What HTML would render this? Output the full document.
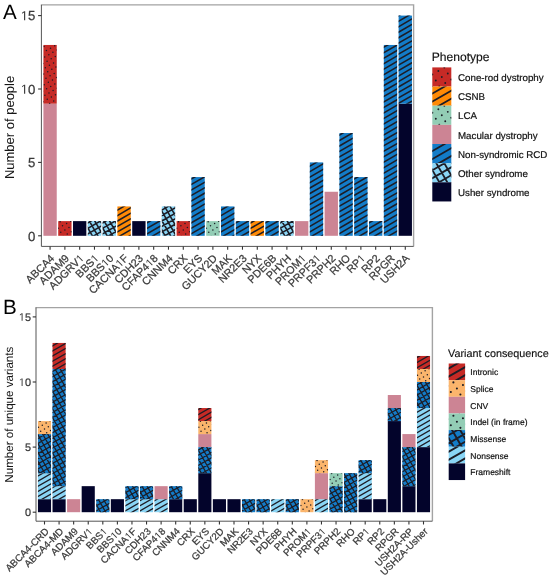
<!DOCTYPE html>
<html><head><meta charset="utf-8"><style>
html,body{margin:0;padding:0;background:#fff;}
svg{display:block;font-family:"Liberation Sans", sans-serif;will-change:transform;text-rendering:geometricPrecision;}
</style></head><body>
<svg width="550" height="576" viewBox="0 0 550 576">
<rect x="43.42" y="103.68" width="13.32" height="132.12" fill="#CC8494"/>
<rect x="43.42" y="44.96" width="13.32" height="58.72" fill="#C62A26"/>
<rect x="58.22" y="221.12" width="13.32" height="14.68" fill="#C62A26"/>
<rect x="73.02" y="221.12" width="13.32" height="14.68" fill="#03042B"/>
<rect x="87.82" y="221.12" width="13.32" height="14.68" fill="#8AD5F5"/>
<rect x="102.62" y="221.12" width="13.32" height="14.68" fill="#8AD5F5"/>
<rect x="117.42" y="206.44" width="13.32" height="29.36" fill="#FF8A05"/>
<rect x="132.22" y="221.12" width="13.32" height="14.68" fill="#03042B"/>
<rect x="147.02" y="221.12" width="13.32" height="14.68" fill="#137CC8"/>
<rect x="161.82" y="206.44" width="13.32" height="29.36" fill="#8AD5F5"/>
<rect x="176.62" y="221.12" width="13.32" height="14.68" fill="#C62A26"/>
<rect x="191.42" y="177.08" width="13.32" height="58.72" fill="#137CC8"/>
<rect x="206.22" y="221.12" width="13.32" height="14.68" fill="#93CDB5"/>
<rect x="221.02" y="206.44" width="13.32" height="29.36" fill="#137CC8"/>
<rect x="235.82" y="221.12" width="13.32" height="14.68" fill="#137CC8"/>
<rect x="250.62" y="221.12" width="13.32" height="14.68" fill="#FF8A05"/>
<rect x="265.42" y="221.12" width="13.32" height="14.68" fill="#137CC8"/>
<rect x="280.22" y="221.12" width="13.32" height="14.68" fill="#8AD5F5"/>
<rect x="295.02" y="221.12" width="13.32" height="14.68" fill="#CC8494"/>
<rect x="309.82" y="162.40" width="13.32" height="73.40" fill="#137CC8"/>
<rect x="324.62" y="191.76" width="13.32" height="44.04" fill="#CC8494"/>
<rect x="339.42" y="133.04" width="13.32" height="102.76" fill="#137CC8"/>
<rect x="354.22" y="177.08" width="13.32" height="58.72" fill="#137CC8"/>
<rect x="369.02" y="221.12" width="13.32" height="14.68" fill="#137CC8"/>
<rect x="383.82" y="44.96" width="13.32" height="190.84" fill="#137CC8"/>
<rect x="398.62" y="103.68" width="13.32" height="132.12" fill="#03042B"/>
<rect x="398.62" y="15.60" width="13.32" height="88.08" fill="#137CC8"/>
<clipPath id="c1"><rect x="43.42" y="44.96" width="13.32" height="58.72"/></clipPath>
<g clip-path="url(#c1)"><path d="M42.39 101.74a0.75 0.75 0 1 0 1.5 0a0.75 0.75 0 1 0 -1.5 0M41.76 91.16a0.75 0.75 0 1 0 1.5 0a0.75 0.75 0 1 0 -1.5 0M44.13 95.26a0.75 0.75 0 1 0 1.5 0a0.75 0.75 0 1 0 -1.5 0M46.50 99.37a0.75 0.75 0 1 0 1.5 0a0.75 0.75 0 1 0 -1.5 0M48.87 103.47a0.75 0.75 0 1 0 1.5 0a0.75 0.75 0 1 0 -1.5 0M41.12 80.58a0.75 0.75 0 1 0 1.5 0a0.75 0.75 0 1 0 -1.5 0M43.49 84.68a0.75 0.75 0 1 0 1.5 0a0.75 0.75 0 1 0 -1.5 0M45.86 88.79a0.75 0.75 0 1 0 1.5 0a0.75 0.75 0 1 0 -1.5 0M48.23 92.89a0.75 0.75 0 1 0 1.5 0a0.75 0.75 0 1 0 -1.5 0M50.60 97.00a0.75 0.75 0 1 0 1.5 0a0.75 0.75 0 1 0 -1.5 0M52.97 101.10a0.75 0.75 0 1 0 1.5 0a0.75 0.75 0 1 0 -1.5 0M55.34 105.21a0.75 0.75 0 1 0 1.5 0a0.75 0.75 0 1 0 -1.5 0M42.86 74.10a0.75 0.75 0 1 0 1.5 0a0.75 0.75 0 1 0 -1.5 0M45.23 78.21a0.75 0.75 0 1 0 1.5 0a0.75 0.75 0 1 0 -1.5 0M47.60 82.31a0.75 0.75 0 1 0 1.5 0a0.75 0.75 0 1 0 -1.5 0M49.97 86.42a0.75 0.75 0 1 0 1.5 0a0.75 0.75 0 1 0 -1.5 0M52.34 90.52a0.75 0.75 0 1 0 1.5 0a0.75 0.75 0 1 0 -1.5 0M54.71 94.63a0.75 0.75 0 1 0 1.5 0a0.75 0.75 0 1 0 -1.5 0M57.08 98.73a0.75 0.75 0 1 0 1.5 0a0.75 0.75 0 1 0 -1.5 0M42.22 63.52a0.75 0.75 0 1 0 1.5 0a0.75 0.75 0 1 0 -1.5 0M44.59 67.63a0.75 0.75 0 1 0 1.5 0a0.75 0.75 0 1 0 -1.5 0M46.96 71.73a0.75 0.75 0 1 0 1.5 0a0.75 0.75 0 1 0 -1.5 0M49.33 75.84a0.75 0.75 0 1 0 1.5 0a0.75 0.75 0 1 0 -1.5 0M51.70 79.94a0.75 0.75 0 1 0 1.5 0a0.75 0.75 0 1 0 -1.5 0M54.07 84.05a0.75 0.75 0 1 0 1.5 0a0.75 0.75 0 1 0 -1.5 0M56.44 88.15a0.75 0.75 0 1 0 1.5 0a0.75 0.75 0 1 0 -1.5 0M41.58 52.94a0.75 0.75 0 1 0 1.5 0a0.75 0.75 0 1 0 -1.5 0M43.95 57.05a0.75 0.75 0 1 0 1.5 0a0.75 0.75 0 1 0 -1.5 0M46.32 61.15a0.75 0.75 0 1 0 1.5 0a0.75 0.75 0 1 0 -1.5 0M48.69 65.26a0.75 0.75 0 1 0 1.5 0a0.75 0.75 0 1 0 -1.5 0M51.06 69.36a0.75 0.75 0 1 0 1.5 0a0.75 0.75 0 1 0 -1.5 0M53.43 73.47a0.75 0.75 0 1 0 1.5 0a0.75 0.75 0 1 0 -1.5 0M55.80 77.57a0.75 0.75 0 1 0 1.5 0a0.75 0.75 0 1 0 -1.5 0M43.32 46.47a0.75 0.75 0 1 0 1.5 0a0.75 0.75 0 1 0 -1.5 0M45.69 50.57a0.75 0.75 0 1 0 1.5 0a0.75 0.75 0 1 0 -1.5 0M48.06 54.68a0.75 0.75 0 1 0 1.5 0a0.75 0.75 0 1 0 -1.5 0M50.43 58.78a0.75 0.75 0 1 0 1.5 0a0.75 0.75 0 1 0 -1.5 0M52.80 62.89a0.75 0.75 0 1 0 1.5 0a0.75 0.75 0 1 0 -1.5 0M55.17 66.99a0.75 0.75 0 1 0 1.5 0a0.75 0.75 0 1 0 -1.5 0M57.54 71.10a0.75 0.75 0 1 0 1.5 0a0.75 0.75 0 1 0 -1.5 0M47.42 44.10a0.75 0.75 0 1 0 1.5 0a0.75 0.75 0 1 0 -1.5 0M49.79 48.20a0.75 0.75 0 1 0 1.5 0a0.75 0.75 0 1 0 -1.5 0M52.16 52.31a0.75 0.75 0 1 0 1.5 0a0.75 0.75 0 1 0 -1.5 0M54.53 56.41a0.75 0.75 0 1 0 1.5 0a0.75 0.75 0 1 0 -1.5 0M56.90 60.52a0.75 0.75 0 1 0 1.5 0a0.75 0.75 0 1 0 -1.5 0M53.90 45.83a0.75 0.75 0 1 0 1.5 0a0.75 0.75 0 1 0 -1.5 0M56.27 49.94a0.75 0.75 0 1 0 1.5 0a0.75 0.75 0 1 0 -1.5 0" fill="#1d1d26"/></g>
<clipPath id="c2"><rect x="58.22" y="221.12" width="13.32" height="14.68"/></clipPath>
<g clip-path="url(#c2)"><path d="M55.92 234.72a0.75 0.75 0 1 0 1.5 0a0.75 0.75 0 1 0 -1.5 0M57.66 228.24a0.75 0.75 0 1 0 1.5 0a0.75 0.75 0 1 0 -1.5 0M60.03 232.35a0.75 0.75 0 1 0 1.5 0a0.75 0.75 0 1 0 -1.5 0M62.40 236.45a0.75 0.75 0 1 0 1.5 0a0.75 0.75 0 1 0 -1.5 0M59.39 221.77a0.75 0.75 0 1 0 1.5 0a0.75 0.75 0 1 0 -1.5 0M61.76 225.87a0.75 0.75 0 1 0 1.5 0a0.75 0.75 0 1 0 -1.5 0M64.13 229.98a0.75 0.75 0 1 0 1.5 0a0.75 0.75 0 1 0 -1.5 0M66.50 234.08a0.75 0.75 0 1 0 1.5 0a0.75 0.75 0 1 0 -1.5 0M63.49 219.40a0.75 0.75 0 1 0 1.5 0a0.75 0.75 0 1 0 -1.5 0M65.86 223.50a0.75 0.75 0 1 0 1.5 0a0.75 0.75 0 1 0 -1.5 0M68.23 227.61a0.75 0.75 0 1 0 1.5 0a0.75 0.75 0 1 0 -1.5 0M70.60 231.71a0.75 0.75 0 1 0 1.5 0a0.75 0.75 0 1 0 -1.5 0M69.97 221.13a0.75 0.75 0 1 0 1.5 0a0.75 0.75 0 1 0 -1.5 0M72.34 225.24a0.75 0.75 0 1 0 1.5 0a0.75 0.75 0 1 0 -1.5 0" fill="#1d1d26"/></g>
<clipPath id="c3"><rect x="87.82" y="221.12" width="13.32" height="14.68"/></clipPath>
<g clip-path="url(#c3)"><path d="M75.75 218.90L95.56 207.46M78.12 223.00L97.93 211.56M80.49 227.11L100.30 215.67M82.86 231.21L102.67 219.77M85.23 235.32L105.04 223.88M87.60 239.42L107.41 227.98M89.97 243.53L109.78 232.09M92.34 247.63L112.15 236.19M75.67 225.83L87.35 246.07M79.77 223.46L91.46 243.70M83.87 221.09L95.56 241.33M87.98 218.72L99.67 238.96M92.08 216.35L103.77 236.59M96.19 213.98L107.88 234.22M100.29 211.61L111.98 231.85M104.40 209.24L116.09 229.48" stroke="#1d1d26" stroke-width="1.55" fill="none"/></g>
<clipPath id="c4"><rect x="102.62" y="221.12" width="13.32" height="14.68"/></clipPath>
<g clip-path="url(#c4)"><path d="M90.55 218.90L110.36 207.46M92.92 223.00L112.73 211.56M95.29 227.11L115.10 215.67M97.66 231.21L117.47 219.77M100.03 235.32L119.84 223.88M102.40 239.42L122.21 227.98M104.77 243.53L124.58 232.09M107.14 247.63L126.95 236.19M90.47 225.83L102.15 246.07M94.57 223.46L106.26 243.70M98.67 221.09L110.36 241.33M102.78 218.72L114.47 238.96M106.88 216.35L118.57 236.59M110.99 213.98L122.68 234.22M115.09 211.61L126.78 231.85M119.20 209.24L130.89 229.48" stroke="#1d1d26" stroke-width="1.55" fill="none"/></g>
<clipPath id="c5"><rect x="117.42" y="206.44" width="13.32" height="29.36"/></clipPath>
<g clip-path="url(#c5)"><path d="M99.80 209.29L125.97 194.18M102.17 213.39L128.34 198.28M104.54 217.50L130.71 202.39M106.91 221.60L133.08 206.49M109.28 225.71L135.45 210.60M111.65 229.81L137.82 214.70M114.02 233.92L140.19 218.81M116.39 238.02L142.56 222.91M118.76 242.13L144.93 227.02M121.13 246.23L147.30 231.12M123.50 250.34L149.67 235.23" stroke="#1d1d26" stroke-width="1.55" fill="none"/></g>
<clipPath id="c6"><rect x="147.02" y="221.12" width="13.32" height="14.68"/></clipPath>
<g clip-path="url(#c6)"><path d="M134.95 218.90L154.76 207.46M137.32 223.00L157.13 211.56M139.69 227.11L159.50 215.67M142.06 231.21L161.87 219.77M144.43 235.32L164.24 223.88M146.80 239.42L166.61 227.98M149.17 243.53L168.98 232.09M151.54 247.63L171.35 236.19" stroke="#1d1d26" stroke-width="1.55" fill="none"/></g>
<clipPath id="c7"><rect x="161.82" y="206.44" width="13.32" height="29.36"/></clipPath>
<g clip-path="url(#c7)"><path d="M144.20 209.29L170.37 194.18M146.57 213.39L172.74 198.28M148.94 217.50L175.11 202.39M151.31 221.60L177.48 206.49M153.68 225.71L179.85 210.60M156.05 229.81L182.22 214.70M158.42 233.92L184.59 218.81M160.79 238.02L186.96 222.91M163.16 242.13L189.33 227.02M165.53 246.23L191.70 231.12M167.90 250.34L194.07 235.23M142.38 215.35L160.42 246.61M146.49 212.98L164.53 244.24M150.59 210.61L168.63 241.87M154.70 208.24L172.74 239.50M158.80 205.87L176.84 237.13M162.91 203.50L180.95 234.76M167.01 201.13L185.05 232.39M171.12 198.76L189.16 230.02M175.22 196.39L193.26 227.65" stroke="#1d1d26" stroke-width="1.55" fill="none"/></g>
<clipPath id="c8"><rect x="176.62" y="221.12" width="13.32" height="14.68"/></clipPath>
<g clip-path="url(#c8)"><path d="M174.32 234.72a0.75 0.75 0 1 0 1.5 0a0.75 0.75 0 1 0 -1.5 0M176.06 228.24a0.75 0.75 0 1 0 1.5 0a0.75 0.75 0 1 0 -1.5 0M178.43 232.35a0.75 0.75 0 1 0 1.5 0a0.75 0.75 0 1 0 -1.5 0M180.80 236.45a0.75 0.75 0 1 0 1.5 0a0.75 0.75 0 1 0 -1.5 0M177.79 221.77a0.75 0.75 0 1 0 1.5 0a0.75 0.75 0 1 0 -1.5 0M180.16 225.87a0.75 0.75 0 1 0 1.5 0a0.75 0.75 0 1 0 -1.5 0M182.53 229.98a0.75 0.75 0 1 0 1.5 0a0.75 0.75 0 1 0 -1.5 0M184.90 234.08a0.75 0.75 0 1 0 1.5 0a0.75 0.75 0 1 0 -1.5 0M181.89 219.40a0.75 0.75 0 1 0 1.5 0a0.75 0.75 0 1 0 -1.5 0M184.26 223.50a0.75 0.75 0 1 0 1.5 0a0.75 0.75 0 1 0 -1.5 0M186.63 227.61a0.75 0.75 0 1 0 1.5 0a0.75 0.75 0 1 0 -1.5 0M189.00 231.71a0.75 0.75 0 1 0 1.5 0a0.75 0.75 0 1 0 -1.5 0M188.37 221.13a0.75 0.75 0 1 0 1.5 0a0.75 0.75 0 1 0 -1.5 0M190.74 225.24a0.75 0.75 0 1 0 1.5 0a0.75 0.75 0 1 0 -1.5 0" fill="#1d1d26"/></g>
<clipPath id="c9"><rect x="191.42" y="177.08" width="13.32" height="58.72"/></clipPath>
<g clip-path="url(#c9)"><path d="M160.34 185.96L199.22 163.51M162.71 190.07L201.59 167.62M165.08 194.17L203.96 171.72M167.45 198.28L206.33 175.83M169.82 202.38L208.70 179.93M172.19 206.49L211.07 184.04M174.56 210.59L213.44 188.14M176.93 214.70L215.81 192.25M179.30 218.80L218.18 196.35M181.67 222.91L220.55 200.46M184.04 227.01L222.92 204.56M186.41 231.12L225.29 208.67M188.78 235.22L227.66 212.77M191.15 239.33L230.03 216.88M193.52 243.43L232.40 220.98M195.89 247.54L234.77 225.09" stroke="#1d1d26" stroke-width="1.55" fill="none"/></g>
<clipPath id="c10"><rect x="206.22" y="221.12" width="13.32" height="14.68"/></clipPath>
<g clip-path="url(#c10)"><path d="M203.92 234.72a0.75 0.75 0 1 0 1.5 0a0.75 0.75 0 1 0 -1.5 0M205.66 228.24a0.75 0.75 0 1 0 1.5 0a0.75 0.75 0 1 0 -1.5 0M208.03 232.35a0.75 0.75 0 1 0 1.5 0a0.75 0.75 0 1 0 -1.5 0M210.40 236.45a0.75 0.75 0 1 0 1.5 0a0.75 0.75 0 1 0 -1.5 0M207.39 221.77a0.75 0.75 0 1 0 1.5 0a0.75 0.75 0 1 0 -1.5 0M209.76 225.87a0.75 0.75 0 1 0 1.5 0a0.75 0.75 0 1 0 -1.5 0M212.13 229.98a0.75 0.75 0 1 0 1.5 0a0.75 0.75 0 1 0 -1.5 0M214.50 234.08a0.75 0.75 0 1 0 1.5 0a0.75 0.75 0 1 0 -1.5 0M211.49 219.40a0.75 0.75 0 1 0 1.5 0a0.75 0.75 0 1 0 -1.5 0M213.86 223.50a0.75 0.75 0 1 0 1.5 0a0.75 0.75 0 1 0 -1.5 0M216.23 227.61a0.75 0.75 0 1 0 1.5 0a0.75 0.75 0 1 0 -1.5 0M218.60 231.71a0.75 0.75 0 1 0 1.5 0a0.75 0.75 0 1 0 -1.5 0M217.97 221.13a0.75 0.75 0 1 0 1.5 0a0.75 0.75 0 1 0 -1.5 0M220.34 225.24a0.75 0.75 0 1 0 1.5 0a0.75 0.75 0 1 0 -1.5 0" fill="#1d1d26"/></g>
<clipPath id="c11"><rect x="221.02" y="206.44" width="13.32" height="29.36"/></clipPath>
<g clip-path="url(#c11)"><path d="M203.40 209.29L229.57 194.18M205.77 213.39L231.94 198.28M208.14 217.50L234.31 202.39M210.51 221.60L236.68 206.49M212.88 225.71L239.05 210.60M215.25 229.81L241.42 214.70M217.62 233.92L243.79 218.81M219.99 238.02L246.16 222.91M222.36 242.13L248.53 227.02M224.73 246.23L250.90 231.12M227.10 250.34L253.27 235.23" stroke="#1d1d26" stroke-width="1.55" fill="none"/></g>
<clipPath id="c12"><rect x="235.82" y="221.12" width="13.32" height="14.68"/></clipPath>
<g clip-path="url(#c12)"><path d="M223.75 218.90L243.56 207.46M226.12 223.00L245.93 211.56M228.49 227.11L248.30 215.67M230.86 231.21L250.67 219.77M233.23 235.32L253.04 223.88M235.60 239.42L255.41 227.98M237.97 243.53L257.78 232.09M240.34 247.63L260.15 236.19" stroke="#1d1d26" stroke-width="1.55" fill="none"/></g>
<clipPath id="c13"><rect x="250.62" y="221.12" width="13.32" height="14.68"/></clipPath>
<g clip-path="url(#c13)"><path d="M238.55 218.90L258.36 207.46M240.92 223.00L260.73 211.56M243.29 227.11L263.10 215.67M245.66 231.21L265.47 219.77M248.03 235.32L267.84 223.88M250.40 239.42L270.21 227.98M252.77 243.53L272.58 232.09M255.14 247.63L274.95 236.19" stroke="#1d1d26" stroke-width="1.55" fill="none"/></g>
<clipPath id="c14"><rect x="265.42" y="221.12" width="13.32" height="14.68"/></clipPath>
<g clip-path="url(#c14)"><path d="M253.35 218.90L273.16 207.46M255.72 223.00L275.53 211.56M258.09 227.11L277.90 215.67M260.46 231.21L280.27 219.77M262.83 235.32L282.64 223.88M265.20 239.42L285.01 227.98M267.57 243.53L287.38 232.09M269.94 247.63L289.75 236.19" stroke="#1d1d26" stroke-width="1.55" fill="none"/></g>
<clipPath id="c15"><rect x="280.22" y="221.12" width="13.32" height="14.68"/></clipPath>
<g clip-path="url(#c15)"><path d="M268.15 218.90L287.96 207.46M270.52 223.00L290.33 211.56M272.89 227.11L292.70 215.67M275.26 231.21L295.07 219.77M277.63 235.32L297.44 223.88M280.00 239.42L299.81 227.98M282.37 243.53L302.18 232.09M284.74 247.63L304.55 236.19M268.07 225.83L279.75 246.07M272.17 223.46L283.86 243.70M276.27 221.09L287.96 241.33M280.38 218.72L292.07 238.96M284.48 216.35L296.17 236.59M288.59 213.98L300.28 234.22M292.69 211.61L304.38 231.85M296.80 209.24L308.49 229.48" stroke="#1d1d26" stroke-width="1.55" fill="none"/></g>
<clipPath id="c16"><rect x="309.82" y="162.40" width="13.32" height="73.40"/></clipPath>
<g clip-path="url(#c16)"><path d="M273.19 176.35L318.43 150.23M275.56 180.46L320.80 154.34M277.93 184.56L323.17 158.44M280.30 188.67L325.54 162.55M282.67 192.77L327.91 166.65M285.04 196.88L330.28 170.76M287.41 200.98L332.65 174.86M289.78 205.09L335.02 178.97M292.15 209.19L337.39 183.07M294.52 213.30L339.76 187.18M296.89 217.40L342.13 191.28M299.26 221.51L344.50 195.39M301.63 225.61L346.87 199.49M304.00 229.72L349.24 203.60M306.37 233.82L351.61 207.70M308.74 237.93L353.98 211.81M311.11 242.03L356.35 215.91M313.48 246.14L358.72 220.02M315.85 250.24L361.09 224.12" stroke="#1d1d26" stroke-width="1.55" fill="none"/></g>
<clipPath id="c17"><rect x="339.42" y="133.04" width="13.32" height="102.76"/></clipPath>
<g clip-path="url(#c17)"><path d="M289.32 153.03L347.27 119.57M291.69 157.13L349.64 123.67M294.06 161.24L352.01 127.78M296.43 165.34L354.38 131.88M298.80 169.45L356.75 135.99M301.17 173.55L359.12 140.09M303.54 177.66L361.49 144.20M305.91 181.76L363.86 148.30M308.28 185.87L366.23 152.41M310.65 189.97L368.60 156.51M313.02 194.08L370.97 160.62M315.39 198.18L373.34 164.72M317.76 202.29L375.71 168.83M320.13 206.39L378.08 172.93M322.50 210.50L380.45 177.04M324.87 214.60L382.82 181.14M327.24 218.71L385.19 185.25M329.61 222.81L387.56 189.35M331.98 226.92L389.93 193.46M334.35 231.02L392.30 197.56M336.72 235.13L394.67 201.67M339.09 239.23L397.04 205.77M341.46 243.34L399.41 209.88M343.83 247.44L401.78 213.98" stroke="#1d1d26" stroke-width="1.55" fill="none"/></g>
<clipPath id="c18"><rect x="354.22" y="177.08" width="13.32" height="58.72"/></clipPath>
<g clip-path="url(#c18)"><path d="M323.14 185.96L362.02 163.51M325.51 190.07L364.39 167.62M327.88 194.17L366.76 171.72M330.25 198.28L369.13 175.83M332.62 202.38L371.50 179.93M334.99 206.49L373.87 184.04M337.36 210.59L376.24 188.14M339.73 214.70L378.61 192.25M342.10 218.80L380.98 196.35M344.47 222.91L383.35 200.46M346.84 227.01L385.72 204.56M349.21 231.12L388.09 208.67M351.58 235.22L390.46 212.77M353.95 239.33L392.83 216.88M356.32 243.43L395.20 220.98M358.69 247.54L397.57 225.09" stroke="#1d1d26" stroke-width="1.55" fill="none"/></g>
<clipPath id="c19"><rect x="369.02" y="221.12" width="13.32" height="14.68"/></clipPath>
<g clip-path="url(#c19)"><path d="M356.95 218.90L376.76 207.46M359.32 223.00L379.13 211.56M361.69 227.11L381.50 215.67M364.06 231.21L383.87 219.77M366.43 235.32L386.24 223.88M368.80 239.42L388.61 227.98M371.17 243.53L390.98 232.09M373.54 247.63L393.35 236.19" stroke="#1d1d26" stroke-width="1.55" fill="none"/></g>
<clipPath id="c20"><rect x="383.82" y="44.96" width="13.32" height="190.84"/></clipPath>
<g clip-path="url(#c20)"><path d="M295.69 87.16L391.78 31.68M298.06 91.26L394.15 35.78M300.43 95.37L396.52 39.89M302.80 99.47L398.89 43.99M305.17 103.58L401.26 48.10M307.54 107.68L403.63 52.20M309.91 111.79L406.00 56.31M312.28 115.89L408.37 60.41M314.65 120.00L410.74 64.52M317.02 124.10L413.11 68.62M319.39 128.21L415.48 72.73M321.76 132.31L417.85 76.83M324.13 136.42L420.22 80.94M326.50 140.52L422.59 85.04M328.87 144.63L424.96 89.15M331.24 148.73L427.33 93.25M333.61 152.84L429.70 97.36M335.98 156.94L432.07 101.46M338.35 161.05L434.44 105.57M340.72 165.15L436.81 109.67M343.09 169.26L439.18 113.78M345.46 173.36L441.55 117.88M347.83 177.47L443.92 121.99M350.20 181.57L446.29 126.09M352.57 185.68L448.66 130.20M354.94 189.78L451.03 134.30M357.31 193.89L453.40 138.41M359.68 197.99L455.77 142.51M362.05 202.10L458.14 146.62M364.42 206.20L460.51 150.72M366.79 210.31L462.88 154.83M369.16 214.41L465.25 158.93M371.53 218.52L467.62 163.04M373.90 222.62L469.99 167.14M376.27 226.73L472.36 171.25M378.64 230.83L474.73 175.35M381.01 234.94L477.10 179.46M383.38 239.04L479.47 183.56M385.75 243.15L481.84 187.67M388.12 247.25L484.21 191.77" stroke="#1d1d26" stroke-width="1.55" fill="none"/></g>
<clipPath id="c21"><rect x="398.62" y="15.60" width="13.32" height="88.08"/></clipPath>
<g clip-path="url(#c21)"><path d="M354.07 30.52L405.66 0.73M356.44 34.62L408.03 4.83M358.81 38.73L410.40 8.94M361.18 42.83L412.77 13.04M363.55 46.94L415.14 17.15M365.92 51.04L417.51 21.25M368.29 55.15L419.88 25.36M370.66 59.25L422.25 29.46M373.03 63.36L424.62 33.57M375.40 67.46L426.99 37.67M377.77 71.57L429.36 41.78M380.14 75.67L431.73 45.88M382.51 79.78L434.10 49.99M384.88 83.88L436.47 54.09M387.25 87.99L438.84 58.20M389.62 92.09L441.21 62.30M391.99 96.20L443.58 66.41M394.36 100.30L445.95 70.51M396.73 104.41L448.32 74.62M399.10 108.51L450.69 78.72M401.47 112.62L453.06 82.83M403.84 116.72L455.43 86.93" stroke="#1d1d26" stroke-width="1.55" fill="none"/></g>
<path d="M40.85,4.90 H413.60 V246.40" fill="none" stroke="#A3A3A3" stroke-width="1.4"/>
<path d="M41.40,4.90 V246.40 H413.60" fill="none" stroke="#555" stroke-width="1.0"/>
<line x1="38.10" x2="41.40" y1="235.80" y2="235.80" stroke="#333" stroke-width="1.1"/>
<g transform="translate(35.40,240.55)"><text x="0" y="0.00" font-size="13.2" text-anchor="end" fill="#3a3a3a" stroke="#3a3a3a" stroke-width="0.25">0</text></g>
<line x1="38.10" x2="41.40" y1="162.40" y2="162.40" stroke="#333" stroke-width="1.1"/>
<g transform="translate(35.40,167.15)"><text x="0" y="0.00" font-size="13.2" text-anchor="end" fill="#3a3a3a" stroke="#3a3a3a" stroke-width="0.25">5</text></g>
<line x1="38.10" x2="41.40" y1="89.00" y2="89.00" stroke="#333" stroke-width="1.1"/>
<g transform="translate(35.40,93.75)"><text x="0" y="0.00" font-size="13.2" text-anchor="end" fill="#3a3a3a" stroke="#3a3a3a" stroke-width="0.25"> 0</text><path d="M-11.36,0.00 -11.36,-7.97 -13.41,-6.51 -13.41,-7.61 -11.27,-9.08 -10.20,-9.08 -10.20,0.00Z" fill="#3a3a3a"/></g>
<line x1="38.10" x2="41.40" y1="15.60" y2="15.60" stroke="#333" stroke-width="1.1"/>
<g transform="translate(35.40,20.35)"><text x="0" y="0.00" font-size="13.2" text-anchor="end" fill="#3a3a3a" stroke="#3a3a3a" stroke-width="0.25"> 5</text><path d="M-11.36,0.00 -11.36,-7.97 -13.41,-6.51 -13.41,-7.61 -11.27,-9.08 -10.20,-9.08 -10.20,0.00Z" fill="#3a3a3a"/></g>
<line x1="50.08" x2="50.08" y1="246.40" y2="249.70" stroke="#333" stroke-width="1.1"/>
<g transform="translate(54.98,258.90) rotate(-45)"><text x="0" y="0.00" font-size="10.8" text-anchor="end" fill="#3a3a3a" stroke="#3a3a3a" stroke-width="0.25">ABCA4</text></g>
<line x1="64.88" x2="64.88" y1="246.40" y2="249.70" stroke="#333" stroke-width="1.1"/>
<g transform="translate(69.78,258.90) rotate(-45)"><text x="0" y="0.00" font-size="10.8" text-anchor="end" fill="#3a3a3a" stroke="#3a3a3a" stroke-width="0.25">ADAM9</text></g>
<line x1="79.68" x2="79.68" y1="246.40" y2="249.70" stroke="#333" stroke-width="1.1"/>
<g transform="translate(84.58,258.90) rotate(-45)"><text x="0" y="0.00" font-size="10.8" text-anchor="end" fill="#3a3a3a" stroke="#3a3a3a" stroke-width="0.25">ADGRV </text><path d="M-3.29,0.00 -3.29,-6.52 -4.97,-5.33 -4.97,-6.22 -3.21,-7.43 -2.34,-7.43 -2.34,0.00Z" fill="#3a3a3a"/></g>
<line x1="94.48" x2="94.48" y1="246.40" y2="249.70" stroke="#333" stroke-width="1.1"/>
<g transform="translate(99.38,258.90) rotate(-45)"><text x="0" y="0.00" font-size="10.8" text-anchor="end" fill="#3a3a3a" stroke="#3a3a3a" stroke-width="0.25">BBS </text><path d="M-3.29,0.00 -3.29,-6.52 -4.97,-5.33 -4.97,-6.22 -3.21,-7.43 -2.34,-7.43 -2.34,0.00Z" fill="#3a3a3a"/></g>
<line x1="109.28" x2="109.28" y1="246.40" y2="249.70" stroke="#333" stroke-width="1.1"/>
<g transform="translate(114.18,258.90) rotate(-45)"><text x="0" y="0.00" font-size="10.8" text-anchor="end" fill="#3a3a3a" stroke="#3a3a3a" stroke-width="0.25">BBS 0</text><path d="M-9.30,0.00 -9.30,-6.52 -10.97,-5.33 -10.97,-6.22 -9.22,-7.43 -8.34,-7.43 -8.34,0.00Z" fill="#3a3a3a"/></g>
<line x1="124.08" x2="124.08" y1="246.40" y2="249.70" stroke="#333" stroke-width="1.1"/>
<g transform="translate(128.98,258.90) rotate(-45)"><text x="0" y="0.00" font-size="10.8" text-anchor="end" fill="#3a3a3a" stroke="#3a3a3a" stroke-width="0.25">CACNA F</text><path d="M-9.89,0.00 -9.89,-6.52 -11.56,-5.33 -11.56,-6.22 -9.81,-7.43 -8.93,-7.43 -8.93,0.00Z" fill="#3a3a3a"/></g>
<line x1="138.88" x2="138.88" y1="246.40" y2="249.70" stroke="#333" stroke-width="1.1"/>
<g transform="translate(143.78,258.90) rotate(-45)"><text x="0" y="0.00" font-size="10.8" text-anchor="end" fill="#3a3a3a" stroke="#3a3a3a" stroke-width="0.25">CDH23</text></g>
<line x1="153.68" x2="153.68" y1="246.40" y2="249.70" stroke="#333" stroke-width="1.1"/>
<g transform="translate(158.58,258.90) rotate(-45)"><text x="0" y="0.00" font-size="10.8" text-anchor="end" fill="#3a3a3a" stroke="#3a3a3a" stroke-width="0.25">CFAP4 8</text><path d="M-9.30,0.00 -9.30,-6.52 -10.97,-5.33 -10.97,-6.22 -9.22,-7.43 -8.34,-7.43 -8.34,0.00Z" fill="#3a3a3a"/></g>
<line x1="168.48" x2="168.48" y1="246.40" y2="249.70" stroke="#333" stroke-width="1.1"/>
<g transform="translate(173.38,258.90) rotate(-45)"><text x="0" y="0.00" font-size="10.8" text-anchor="end" fill="#3a3a3a" stroke="#3a3a3a" stroke-width="0.25">CNNM4</text></g>
<line x1="183.28" x2="183.28" y1="246.40" y2="249.70" stroke="#333" stroke-width="1.1"/>
<g transform="translate(188.18,258.90) rotate(-45)"><text x="0" y="0.00" font-size="10.8" text-anchor="end" fill="#3a3a3a" stroke="#3a3a3a" stroke-width="0.25">CRX</text></g>
<line x1="198.08" x2="198.08" y1="246.40" y2="249.70" stroke="#333" stroke-width="1.1"/>
<g transform="translate(202.98,258.90) rotate(-45)"><text x="0" y="0.00" font-size="10.8" text-anchor="end" fill="#3a3a3a" stroke="#3a3a3a" stroke-width="0.25">EYS</text></g>
<line x1="212.88" x2="212.88" y1="246.40" y2="249.70" stroke="#333" stroke-width="1.1"/>
<g transform="translate(217.78,258.90) rotate(-45)"><text x="0" y="0.00" font-size="10.8" text-anchor="end" fill="#3a3a3a" stroke="#3a3a3a" stroke-width="0.25">GUCY2D</text></g>
<line x1="227.68" x2="227.68" y1="246.40" y2="249.70" stroke="#333" stroke-width="1.1"/>
<g transform="translate(232.58,258.90) rotate(-45)"><text x="0" y="0.00" font-size="10.8" text-anchor="end" fill="#3a3a3a" stroke="#3a3a3a" stroke-width="0.25">MAK</text></g>
<line x1="242.48" x2="242.48" y1="246.40" y2="249.70" stroke="#333" stroke-width="1.1"/>
<g transform="translate(247.38,258.90) rotate(-45)"><text x="0" y="0.00" font-size="10.8" text-anchor="end" fill="#3a3a3a" stroke="#3a3a3a" stroke-width="0.25">NR2E3</text></g>
<line x1="257.28" x2="257.28" y1="246.40" y2="249.70" stroke="#333" stroke-width="1.1"/>
<g transform="translate(262.18,258.90) rotate(-45)"><text x="0" y="0.00" font-size="10.8" text-anchor="end" fill="#3a3a3a" stroke="#3a3a3a" stroke-width="0.25">NYX</text></g>
<line x1="272.08" x2="272.08" y1="246.40" y2="249.70" stroke="#333" stroke-width="1.1"/>
<g transform="translate(276.98,258.90) rotate(-45)"><text x="0" y="0.00" font-size="10.8" text-anchor="end" fill="#3a3a3a" stroke="#3a3a3a" stroke-width="0.25">PDE6B</text></g>
<line x1="286.88" x2="286.88" y1="246.40" y2="249.70" stroke="#333" stroke-width="1.1"/>
<g transform="translate(291.78,258.90) rotate(-45)"><text x="0" y="0.00" font-size="10.8" text-anchor="end" fill="#3a3a3a" stroke="#3a3a3a" stroke-width="0.25">PHYH</text></g>
<line x1="301.68" x2="301.68" y1="246.40" y2="249.70" stroke="#333" stroke-width="1.1"/>
<g transform="translate(306.58,258.90) rotate(-45)"><text x="0" y="0.00" font-size="10.8" text-anchor="end" fill="#3a3a3a" stroke="#3a3a3a" stroke-width="0.25">PROM </text><path d="M-3.29,0.00 -3.29,-6.52 -4.97,-5.33 -4.97,-6.22 -3.21,-7.43 -2.34,-7.43 -2.34,0.00Z" fill="#3a3a3a"/></g>
<line x1="316.48" x2="316.48" y1="246.40" y2="249.70" stroke="#333" stroke-width="1.1"/>
<g transform="translate(321.38,258.90) rotate(-45)"><text x="0" y="0.00" font-size="10.8" text-anchor="end" fill="#3a3a3a" stroke="#3a3a3a" stroke-width="0.25">PRPF3 </text><path d="M-3.29,0.00 -3.29,-6.52 -4.97,-5.33 -4.97,-6.22 -3.21,-7.43 -2.34,-7.43 -2.34,0.00Z" fill="#3a3a3a"/></g>
<line x1="331.28" x2="331.28" y1="246.40" y2="249.70" stroke="#333" stroke-width="1.1"/>
<g transform="translate(336.18,258.90) rotate(-45)"><text x="0" y="0.00" font-size="10.8" text-anchor="end" fill="#3a3a3a" stroke="#3a3a3a" stroke-width="0.25">PRPH2</text></g>
<line x1="346.08" x2="346.08" y1="246.40" y2="249.70" stroke="#333" stroke-width="1.1"/>
<g transform="translate(350.98,258.90) rotate(-45)"><text x="0" y="0.00" font-size="10.8" text-anchor="end" fill="#3a3a3a" stroke="#3a3a3a" stroke-width="0.25">RHO</text></g>
<line x1="360.88" x2="360.88" y1="246.40" y2="249.70" stroke="#333" stroke-width="1.1"/>
<g transform="translate(365.78,258.90) rotate(-45)"><text x="0" y="0.00" font-size="10.8" text-anchor="end" fill="#3a3a3a" stroke="#3a3a3a" stroke-width="0.25">RP </text><path d="M-3.29,0.00 -3.29,-6.52 -4.97,-5.33 -4.97,-6.22 -3.21,-7.43 -2.34,-7.43 -2.34,0.00Z" fill="#3a3a3a"/></g>
<line x1="375.68" x2="375.68" y1="246.40" y2="249.70" stroke="#333" stroke-width="1.1"/>
<g transform="translate(380.58,258.90) rotate(-45)"><text x="0" y="0.00" font-size="10.8" text-anchor="end" fill="#3a3a3a" stroke="#3a3a3a" stroke-width="0.25">RP2</text></g>
<line x1="390.48" x2="390.48" y1="246.40" y2="249.70" stroke="#333" stroke-width="1.1"/>
<g transform="translate(395.38,258.90) rotate(-45)"><text x="0" y="0.00" font-size="10.8" text-anchor="end" fill="#3a3a3a" stroke="#3a3a3a" stroke-width="0.25">RPGR</text></g>
<line x1="405.28" x2="405.28" y1="246.40" y2="249.70" stroke="#333" stroke-width="1.1"/>
<g transform="translate(410.18,258.90) rotate(-45)"><text x="0" y="0.00" font-size="10.8" text-anchor="end" fill="#3a3a3a" stroke="#3a3a3a" stroke-width="0.25">USH2A</text></g>
<text transform="translate(14.10,127.45) rotate(-90)" font-size="13" fill="#151515" text-anchor="middle">Number of people</text>
<rect x="37.94" y="499.18" width="13.12" height="13.02" fill="#03042B"/>
<rect x="37.94" y="473.14" width="13.12" height="26.04" fill="#8AD5F5"/>
<rect x="37.94" y="434.08" width="13.12" height="39.06" fill="#137CC8"/>
<rect x="37.94" y="421.06" width="13.12" height="13.02" fill="#FBB56C"/>
<rect x="52.52" y="499.18" width="13.12" height="13.02" fill="#03042B"/>
<rect x="52.52" y="486.16" width="13.12" height="13.02" fill="#8AD5F5"/>
<rect x="52.52" y="368.98" width="13.12" height="117.18" fill="#137CC8"/>
<rect x="52.52" y="342.94" width="13.12" height="26.04" fill="#C62A26"/>
<rect x="67.09" y="499.18" width="13.12" height="13.02" fill="#CC8494"/>
<rect x="81.67" y="486.16" width="13.12" height="26.04" fill="#03042B"/>
<rect x="96.25" y="499.18" width="13.12" height="13.02" fill="#137CC8"/>
<rect x="110.83" y="499.18" width="13.12" height="13.02" fill="#03042B"/>
<rect x="125.40" y="499.18" width="13.12" height="13.02" fill="#8AD5F5"/>
<rect x="125.40" y="486.16" width="13.12" height="13.02" fill="#137CC8"/>
<rect x="139.98" y="499.18" width="13.12" height="13.02" fill="#8AD5F5"/>
<rect x="139.98" y="486.16" width="13.12" height="13.02" fill="#137CC8"/>
<rect x="154.56" y="499.18" width="13.12" height="13.02" fill="#8AD5F5"/>
<rect x="154.56" y="486.16" width="13.12" height="13.02" fill="#CC8494"/>
<rect x="169.13" y="499.18" width="13.12" height="13.02" fill="#03042B"/>
<rect x="169.13" y="486.16" width="13.12" height="13.02" fill="#137CC8"/>
<rect x="183.71" y="499.18" width="13.12" height="13.02" fill="#03042B"/>
<rect x="198.29" y="473.14" width="13.12" height="39.06" fill="#03042B"/>
<rect x="198.29" y="447.10" width="13.12" height="26.04" fill="#137CC8"/>
<rect x="198.29" y="434.08" width="13.12" height="13.02" fill="#CC8494"/>
<rect x="198.29" y="421.06" width="13.12" height="13.02" fill="#FBB56C"/>
<rect x="198.29" y="408.04" width="13.12" height="13.02" fill="#C62A26"/>
<rect x="212.86" y="499.18" width="13.12" height="13.02" fill="#03042B"/>
<rect x="227.44" y="499.18" width="13.12" height="13.02" fill="#03042B"/>
<rect x="242.02" y="499.18" width="13.12" height="13.02" fill="#137CC8"/>
<rect x="256.60" y="499.18" width="13.12" height="13.02" fill="#137CC8"/>
<rect x="271.17" y="499.18" width="13.12" height="13.02" fill="#8AD5F5"/>
<rect x="285.75" y="499.18" width="13.12" height="13.02" fill="#137CC8"/>
<rect x="300.33" y="499.18" width="13.12" height="13.02" fill="#FBB56C"/>
<rect x="314.90" y="499.18" width="13.12" height="13.02" fill="#8AD5F5"/>
<rect x="314.90" y="473.14" width="13.12" height="26.04" fill="#CC8494"/>
<rect x="314.90" y="460.12" width="13.12" height="13.02" fill="#FBB56C"/>
<rect x="329.48" y="486.16" width="13.12" height="26.04" fill="#137CC8"/>
<rect x="329.48" y="473.14" width="13.12" height="13.02" fill="#93CDB5"/>
<rect x="344.06" y="473.14" width="13.12" height="39.06" fill="#137CC8"/>
<rect x="358.63" y="499.18" width="13.12" height="13.02" fill="#03042B"/>
<rect x="358.63" y="473.14" width="13.12" height="26.04" fill="#8AD5F5"/>
<rect x="358.63" y="460.12" width="13.12" height="13.02" fill="#137CC8"/>
<rect x="373.21" y="499.18" width="13.12" height="13.02" fill="#03042B"/>
<rect x="387.79" y="421.06" width="13.12" height="91.14" fill="#03042B"/>
<rect x="387.79" y="408.04" width="13.12" height="13.02" fill="#137CC8"/>
<rect x="387.79" y="395.02" width="13.12" height="13.02" fill="#CC8494"/>
<rect x="402.37" y="486.16" width="13.12" height="26.04" fill="#03042B"/>
<rect x="402.37" y="447.10" width="13.12" height="39.06" fill="#137CC8"/>
<rect x="402.37" y="434.08" width="13.12" height="13.02" fill="#CC8494"/>
<rect x="416.94" y="447.10" width="13.12" height="65.10" fill="#03042B"/>
<rect x="416.94" y="408.04" width="13.12" height="39.06" fill="#8AD5F5"/>
<rect x="416.94" y="382.00" width="13.12" height="26.04" fill="#137CC8"/>
<rect x="416.94" y="368.98" width="13.12" height="13.02" fill="#FBB56C"/>
<rect x="416.94" y="355.96" width="13.12" height="13.02" fill="#C62A26"/>
<clipPath id="c22"><rect x="37.94" y="473.14" width="13.12" height="26.04"/></clipPath>
<g clip-path="url(#c22)"><path d="M21.77 475.18L46.35 460.99M23.98 479.00L48.56 464.81M26.19 482.83L50.77 468.64M28.40 486.66L52.98 472.47M30.61 490.49L55.19 476.30M32.82 494.32L57.40 480.13M35.03 498.14L59.61 483.95M37.24 501.97L61.82 487.78M39.45 505.80L64.03 491.61M41.66 509.63L66.24 495.44M43.87 513.46L68.45 499.26" stroke="#1d1d26" stroke-width="1.3" fill="none"/></g>
<clipPath id="c23"><rect x="37.94" y="434.08" width="13.12" height="39.06"/></clipPath>
<g clip-path="url(#c23)"><path d="M16.74 440.43L46.96 422.98M18.95 444.25L49.17 426.81M21.16 448.08L51.38 430.64M23.37 451.91L53.59 434.46M25.58 455.74L55.80 438.29M27.79 459.57L58.01 442.12M30.00 463.39L60.22 445.95M32.21 467.22L62.43 449.78M34.42 471.05L64.64 453.60M36.63 474.88L66.85 457.43M38.84 478.71L69.06 461.26M41.05 482.53L71.27 465.09M43.26 486.36L73.48 468.91M13.65 445.79L35.85 484.23M17.48 443.58L39.67 482.02M21.31 441.37L43.50 479.81M25.14 439.16L47.33 477.60M28.96 436.95L51.16 475.39M32.79 434.74L54.98 473.18M36.62 432.53L58.81 470.97M40.45 430.32L62.64 468.76M44.27 428.11L66.47 466.55M48.10 425.90L70.30 464.34M51.93 423.69L74.12 462.13" stroke="#1d1d26" stroke-width="1.25" fill="none"/></g>
<clipPath id="c24"><rect x="37.94" y="421.06" width="13.12" height="13.02"/></clipPath>
<g clip-path="url(#c24)"><path d="M36.09 433.40a0.75 0.75 0 1 0 1.5 0a0.75 0.75 0 1 0 -1.5 0M35.50 423.54a0.75 0.75 0 1 0 1.5 0a0.75 0.75 0 1 0 -1.5 0M37.71 427.37a0.75 0.75 0 1 0 1.5 0a0.75 0.75 0 1 0 -1.5 0M39.92 431.19a0.75 0.75 0 1 0 1.5 0a0.75 0.75 0 1 0 -1.5 0M42.13 435.02a0.75 0.75 0 1 0 1.5 0a0.75 0.75 0 1 0 -1.5 0M39.33 421.33a0.75 0.75 0 1 0 1.5 0a0.75 0.75 0 1 0 -1.5 0M41.54 425.16a0.75 0.75 0 1 0 1.5 0a0.75 0.75 0 1 0 -1.5 0M43.75 428.98a0.75 0.75 0 1 0 1.5 0a0.75 0.75 0 1 0 -1.5 0M45.96 432.81a0.75 0.75 0 1 0 1.5 0a0.75 0.75 0 1 0 -1.5 0M43.16 419.12a0.75 0.75 0 1 0 1.5 0a0.75 0.75 0 1 0 -1.5 0M45.37 422.95a0.75 0.75 0 1 0 1.5 0a0.75 0.75 0 1 0 -1.5 0M47.58 426.77a0.75 0.75 0 1 0 1.5 0a0.75 0.75 0 1 0 -1.5 0M49.79 430.60a0.75 0.75 0 1 0 1.5 0a0.75 0.75 0 1 0 -1.5 0M52.00 434.43a0.75 0.75 0 1 0 1.5 0a0.75 0.75 0 1 0 -1.5 0M49.20 420.74a0.75 0.75 0 1 0 1.5 0a0.75 0.75 0 1 0 -1.5 0M51.41 424.56a0.75 0.75 0 1 0 1.5 0a0.75 0.75 0 1 0 -1.5 0" fill="#1d1d26"/></g>
<clipPath id="c25"><rect x="52.52" y="486.16" width="13.12" height="13.02"/></clipPath>
<g clip-path="url(#c25)"><path d="M41.38 483.89L60.32 472.95M43.59 487.72L62.53 476.78M45.80 491.54L64.74 480.61M48.01 495.37L66.95 484.44M50.22 499.20L69.16 488.26M52.43 503.03L71.37 492.09M54.64 506.85L73.58 495.92M56.85 510.68L75.79 499.75" stroke="#1d1d26" stroke-width="1.3" fill="none"/></g>
<clipPath id="c26"><rect x="52.52" y="368.98" width="13.12" height="117.18"/></clipPath>
<g clip-path="url(#c26)"><path d="M-3.27 393.53L60.77 356.55M-1.06 397.36L62.98 360.38M1.15 401.18L65.19 364.21M3.36 405.01L67.40 368.04M5.57 408.84L69.61 371.86M7.78 412.67L71.82 375.69M9.99 416.50L74.03 379.52M12.20 420.32L76.24 383.35M14.41 424.15L78.45 387.18M16.62 427.98L80.66 391.00M18.83 431.81L82.87 394.83M21.04 435.64L85.08 398.66M23.25 439.46L87.29 402.49M25.46 443.29L89.50 406.32M27.67 447.12L91.71 410.14M29.88 450.95L93.92 413.97M32.09 454.77L96.13 417.80M34.30 458.60L98.34 421.63M36.51 462.43L100.55 425.45M38.72 466.26L102.76 429.28M40.93 470.09L104.97 433.11M43.14 473.91L107.18 436.94M45.35 477.74L109.39 440.77M47.56 481.57L111.60 444.59M49.77 485.40L113.81 448.42M51.98 489.22L116.02 452.25M54.19 493.05L118.23 456.08M56.40 496.88L120.44 459.90M-4.00 399.30L52.02 496.33M-0.17 397.09L55.85 494.12M3.66 394.88L59.68 491.91M7.49 392.67L63.51 489.70M11.32 390.46L67.34 487.49M15.14 388.25L71.16 485.28M18.97 386.04L74.99 483.07M22.80 383.83L78.82 480.86M26.63 381.62L82.65 478.65M30.45 379.41L86.47 476.44M34.28 377.20L90.30 474.23M38.11 374.99L94.13 472.02M41.94 372.78L97.96 469.81M45.77 370.57L101.79 467.60M49.59 368.36L105.61 465.39M53.42 366.15L109.44 463.18M57.25 363.94L113.27 460.97M61.08 361.73L117.10 458.76M64.90 359.52L120.93 456.55M68.73 357.31L124.75 454.34" stroke="#1d1d26" stroke-width="1.25" fill="none"/></g>
<clipPath id="c27"><rect x="52.52" y="342.94" width="13.12" height="26.04"/></clipPath>
<g clip-path="url(#c27)"><path d="M36.35 344.98L60.93 330.79M38.56 348.80L63.14 334.61M40.77 352.63L65.35 338.44M42.98 356.46L67.56 342.27M45.19 360.29L69.77 346.10M47.40 364.12L71.98 349.93M49.61 367.94L74.19 353.75M51.82 371.77L76.40 357.58M54.03 375.60L78.61 361.41M56.24 379.43L80.82 365.24M58.45 383.26L83.03 369.06" stroke="#1d1d26" stroke-width="1.3" fill="none"/></g>
<clipPath id="c28"><rect x="96.25" y="499.18" width="13.12" height="13.02"/></clipPath>
<g clip-path="url(#c28)"><path d="M85.11 496.91L104.05 485.97M87.32 500.74L106.26 489.80M89.53 504.56L108.47 493.63M91.74 508.39L110.68 497.46M93.95 512.22L112.89 501.28M96.16 516.05L115.10 505.11M98.37 519.87L117.31 508.94M100.58 523.70L119.52 512.77M85.25 503.22L96.17 522.13M89.08 501.01L100.00 519.92M92.91 498.80L103.83 517.71M96.74 496.59L107.65 515.50M100.56 494.38L111.48 513.29M104.39 492.17L115.31 511.08M108.22 489.96L119.14 508.87M112.05 487.75L122.97 506.66" stroke="#1d1d26" stroke-width="1.25" fill="none"/></g>
<clipPath id="c29"><rect x="125.40" y="499.18" width="13.12" height="13.02"/></clipPath>
<g clip-path="url(#c29)"><path d="M114.26 496.91L133.21 485.97M116.47 500.74L135.42 489.80M118.68 504.56L137.63 493.63M120.89 508.39L139.84 497.46M123.10 512.22L142.05 501.28M125.31 516.05L144.26 505.11M127.52 519.87L146.47 508.94M129.73 523.70L148.68 512.77" stroke="#1d1d26" stroke-width="1.3" fill="none"/></g>
<clipPath id="c30"><rect x="125.40" y="486.16" width="13.12" height="13.02"/></clipPath>
<g clip-path="url(#c30)"><path d="M114.26 483.89L133.21 472.95M116.47 487.72L135.42 476.78M118.68 491.54L137.63 480.61M120.89 495.37L139.84 484.44M123.10 499.20L142.05 488.26M125.31 503.03L144.26 492.09M127.52 506.85L146.47 495.92M129.73 510.68L148.68 499.75M114.41 490.20L125.32 509.11M118.24 487.99L129.15 506.90M122.06 485.78L132.98 504.69M125.89 483.57L136.81 502.48M129.72 481.36L140.64 500.27M133.55 479.15L144.46 498.06M137.37 476.94L148.29 495.85M141.20 474.73L152.12 493.64" stroke="#1d1d26" stroke-width="1.25" fill="none"/></g>
<clipPath id="c31"><rect x="139.98" y="499.18" width="13.12" height="13.02"/></clipPath>
<g clip-path="url(#c31)"><path d="M128.84 496.91L147.78 485.97M131.05 500.74L149.99 489.80M133.26 504.56L152.20 493.63M135.47 508.39L154.41 497.46M137.68 512.22L156.62 501.28M139.89 516.05L158.83 505.11M142.10 519.87L161.04 508.94M144.31 523.70L163.25 512.77" stroke="#1d1d26" stroke-width="1.3" fill="none"/></g>
<clipPath id="c32"><rect x="139.98" y="486.16" width="13.12" height="13.02"/></clipPath>
<g clip-path="url(#c32)"><path d="M128.84 483.89L147.78 472.95M131.05 487.72L149.99 476.78M133.26 491.54L152.20 480.61M135.47 495.37L154.41 484.44M137.68 499.20L156.62 488.26M139.89 503.03L158.83 492.09M142.10 506.85L161.04 495.92M144.31 510.68L163.25 499.75M128.98 490.20L139.90 509.11M132.81 487.99L143.73 506.90M136.64 485.78L147.56 504.69M140.47 483.57L151.39 502.48M144.30 481.36L155.21 500.27M148.12 479.15L159.04 498.06M151.95 476.94L162.87 495.85M155.78 474.73L166.70 493.64" stroke="#1d1d26" stroke-width="1.25" fill="none"/></g>
<clipPath id="c33"><rect x="154.56" y="499.18" width="13.12" height="13.02"/></clipPath>
<g clip-path="url(#c33)"><path d="M143.42 496.91L162.36 485.97M145.63 500.74L164.57 489.80M147.84 504.56L166.78 493.63M150.05 508.39L168.99 497.46M152.26 512.22L171.20 501.28M154.47 516.05L173.41 505.11M156.68 519.87L175.62 508.94M158.89 523.70L177.83 512.77" stroke="#1d1d26" stroke-width="1.3" fill="none"/></g>
<clipPath id="c34"><rect x="169.13" y="486.16" width="13.12" height="13.02"/></clipPath>
<g clip-path="url(#c34)"><path d="M157.99 483.89L176.94 472.95M160.20 487.72L179.15 476.78M162.41 491.54L181.36 480.61M164.62 495.37L183.57 484.44M166.83 499.20L185.78 488.26M169.04 503.03L187.99 492.09M171.25 506.85L190.20 495.92M173.46 510.68L192.41 499.75M158.14 490.20L169.06 509.11M161.97 487.99L172.88 506.90M165.79 485.78L176.71 504.69M169.62 483.57L180.54 502.48M173.45 481.36L184.37 500.27M177.28 479.15L188.20 498.06M181.11 476.94L192.02 495.85M184.93 474.73L195.85 493.64" stroke="#1d1d26" stroke-width="1.25" fill="none"/></g>
<clipPath id="c35"><rect x="198.29" y="447.10" width="13.12" height="26.04"/></clipPath>
<g clip-path="url(#c35)"><path d="M182.12 449.14L206.70 434.95M184.33 452.96L208.91 438.77M186.54 456.79L211.12 442.60M188.75 460.62L213.33 446.43M190.96 464.45L215.54 450.26M193.17 468.28L217.75 454.09M195.38 472.10L219.96 457.91M197.59 475.93L222.17 461.74M199.80 479.76L224.38 465.57M202.01 483.59L226.59 469.40M204.22 487.42L228.80 473.22M180.65 454.98L197.20 483.65M184.47 452.77L201.03 481.44M188.30 450.56L204.86 479.23M192.13 448.35L208.68 477.02M195.96 446.14L212.51 474.81M199.78 443.93L216.34 472.60M203.61 441.72L220.17 470.39M207.44 439.51L224.00 468.18M211.27 437.30L227.82 465.97" stroke="#1d1d26" stroke-width="1.25" fill="none"/></g>
<clipPath id="c36"><rect x="198.29" y="421.06" width="13.12" height="13.02"/></clipPath>
<g clip-path="url(#c36)"><path d="M196.44 433.40a0.75 0.75 0 1 0 1.5 0a0.75 0.75 0 1 0 -1.5 0M195.85 423.54a0.75 0.75 0 1 0 1.5 0a0.75 0.75 0 1 0 -1.5 0M198.06 427.37a0.75 0.75 0 1 0 1.5 0a0.75 0.75 0 1 0 -1.5 0M200.27 431.19a0.75 0.75 0 1 0 1.5 0a0.75 0.75 0 1 0 -1.5 0M202.48 435.02a0.75 0.75 0 1 0 1.5 0a0.75 0.75 0 1 0 -1.5 0M199.68 421.33a0.75 0.75 0 1 0 1.5 0a0.75 0.75 0 1 0 -1.5 0M201.89 425.16a0.75 0.75 0 1 0 1.5 0a0.75 0.75 0 1 0 -1.5 0M204.10 428.98a0.75 0.75 0 1 0 1.5 0a0.75 0.75 0 1 0 -1.5 0M206.31 432.81a0.75 0.75 0 1 0 1.5 0a0.75 0.75 0 1 0 -1.5 0M203.50 419.12a0.75 0.75 0 1 0 1.5 0a0.75 0.75 0 1 0 -1.5 0M205.71 422.95a0.75 0.75 0 1 0 1.5 0a0.75 0.75 0 1 0 -1.5 0M207.92 426.77a0.75 0.75 0 1 0 1.5 0a0.75 0.75 0 1 0 -1.5 0M210.13 430.60a0.75 0.75 0 1 0 1.5 0a0.75 0.75 0 1 0 -1.5 0M212.34 434.43a0.75 0.75 0 1 0 1.5 0a0.75 0.75 0 1 0 -1.5 0M209.54 420.74a0.75 0.75 0 1 0 1.5 0a0.75 0.75 0 1 0 -1.5 0M211.75 424.56a0.75 0.75 0 1 0 1.5 0a0.75 0.75 0 1 0 -1.5 0" fill="#1d1d26"/></g>
<clipPath id="c37"><rect x="198.29" y="408.04" width="13.12" height="13.02"/></clipPath>
<g clip-path="url(#c37)"><path d="M187.15 405.77L206.09 394.83M189.36 409.60L208.30 398.66M191.57 413.42L210.51 402.49M193.78 417.25L212.72 406.32M195.99 421.08L214.93 410.14M198.20 424.91L217.14 413.97M200.41 428.73L219.35 417.80M202.62 432.56L221.56 421.63" stroke="#1d1d26" stroke-width="1.3" fill="none"/></g>
<clipPath id="c38"><rect x="242.02" y="499.18" width="13.12" height="13.02"/></clipPath>
<g clip-path="url(#c38)"><path d="M230.88 496.91L249.82 485.97M233.09 500.74L252.03 489.80M235.30 504.56L254.24 493.63M237.51 508.39L256.45 497.46M239.72 512.22L258.66 501.28M241.93 516.05L260.87 505.11M244.14 519.87L263.08 508.94M246.35 523.70L265.29 512.77M231.02 503.22L241.94 522.13M234.85 501.01L245.77 519.92M238.68 498.80L249.60 517.71M242.51 496.59L253.42 515.50M246.33 494.38L257.25 513.29M250.16 492.17L261.08 511.08M253.99 489.96L264.91 508.87M257.82 487.75L268.74 506.66" stroke="#1d1d26" stroke-width="1.25" fill="none"/></g>
<clipPath id="c39"><rect x="256.60" y="499.18" width="13.12" height="13.02"/></clipPath>
<g clip-path="url(#c39)"><path d="M245.46 496.91L264.40 485.97M247.67 500.74L266.61 489.80M249.88 504.56L268.82 493.63M252.09 508.39L271.03 497.46M254.30 512.22L273.24 501.28M256.51 516.05L275.45 505.11M258.72 519.87L277.66 508.94M260.93 523.70L279.87 512.77M245.60 503.22L256.52 522.13M249.43 501.01L260.35 519.92M253.26 498.80L264.17 517.71M257.08 496.59L268.00 515.50M260.91 494.38L271.83 513.29M264.74 492.17L275.66 511.08M268.57 489.96L279.48 508.87M272.40 487.75L283.31 506.66" stroke="#1d1d26" stroke-width="1.25" fill="none"/></g>
<clipPath id="c40"><rect x="271.17" y="499.18" width="13.12" height="13.02"/></clipPath>
<g clip-path="url(#c40)"><path d="M260.03 496.91L278.98 485.97M262.24 500.74L281.19 489.80M264.45 504.56L283.40 493.63M266.66 508.39L285.61 497.46M268.87 512.22L287.82 501.28M271.08 516.05L290.03 505.11M273.29 519.87L292.24 508.94M275.50 523.70L294.45 512.77" stroke="#1d1d26" stroke-width="1.3" fill="none"/></g>
<clipPath id="c41"><rect x="285.75" y="499.18" width="13.12" height="13.02"/></clipPath>
<g clip-path="url(#c41)"><path d="M274.61 496.91L293.55 485.97M276.82 500.74L295.76 489.80M279.03 504.56L297.97 493.63M281.24 508.39L300.18 497.46M283.45 512.22L302.39 501.28M285.66 516.05L304.60 505.11M287.87 519.87L306.81 508.94M290.08 523.70L309.02 512.77M274.75 503.22L285.67 522.13M278.58 501.01L289.50 519.92M282.41 498.80L293.33 517.71M286.24 496.59L297.16 515.50M290.07 494.38L300.98 513.29M293.89 492.17L304.81 511.08M297.72 489.96L308.64 508.87M301.55 487.75L312.47 506.66" stroke="#1d1d26" stroke-width="1.25" fill="none"/></g>
<clipPath id="c42"><rect x="300.33" y="499.18" width="13.12" height="13.02"/></clipPath>
<g clip-path="url(#c42)"><path d="M298.48 511.52a0.75 0.75 0 1 0 1.5 0a0.75 0.75 0 1 0 -1.5 0M297.89 501.66a0.75 0.75 0 1 0 1.5 0a0.75 0.75 0 1 0 -1.5 0M300.10 505.49a0.75 0.75 0 1 0 1.5 0a0.75 0.75 0 1 0 -1.5 0M302.31 509.31a0.75 0.75 0 1 0 1.5 0a0.75 0.75 0 1 0 -1.5 0M304.52 513.14a0.75 0.75 0 1 0 1.5 0a0.75 0.75 0 1 0 -1.5 0M301.72 499.45a0.75 0.75 0 1 0 1.5 0a0.75 0.75 0 1 0 -1.5 0M303.93 503.28a0.75 0.75 0 1 0 1.5 0a0.75 0.75 0 1 0 -1.5 0M306.14 507.10a0.75 0.75 0 1 0 1.5 0a0.75 0.75 0 1 0 -1.5 0M308.35 510.93a0.75 0.75 0 1 0 1.5 0a0.75 0.75 0 1 0 -1.5 0M305.54 497.24a0.75 0.75 0 1 0 1.5 0a0.75 0.75 0 1 0 -1.5 0M307.75 501.07a0.75 0.75 0 1 0 1.5 0a0.75 0.75 0 1 0 -1.5 0M309.96 504.89a0.75 0.75 0 1 0 1.5 0a0.75 0.75 0 1 0 -1.5 0M312.17 508.72a0.75 0.75 0 1 0 1.5 0a0.75 0.75 0 1 0 -1.5 0M314.38 512.55a0.75 0.75 0 1 0 1.5 0a0.75 0.75 0 1 0 -1.5 0M311.58 498.86a0.75 0.75 0 1 0 1.5 0a0.75 0.75 0 1 0 -1.5 0M313.79 502.68a0.75 0.75 0 1 0 1.5 0a0.75 0.75 0 1 0 -1.5 0" fill="#1d1d26"/></g>
<clipPath id="c43"><rect x="314.90" y="499.18" width="13.12" height="13.02"/></clipPath>
<g clip-path="url(#c43)"><path d="M303.76 496.91L322.71 485.97M305.97 500.74L324.92 489.80M308.18 504.56L327.13 493.63M310.39 508.39L329.34 497.46M312.60 512.22L331.55 501.28M314.81 516.05L333.76 505.11M317.02 519.87L335.97 508.94M319.23 523.70L338.18 512.77" stroke="#1d1d26" stroke-width="1.3" fill="none"/></g>
<clipPath id="c44"><rect x="314.90" y="460.12" width="13.12" height="13.02"/></clipPath>
<g clip-path="url(#c44)"><path d="M313.06 472.46a0.75 0.75 0 1 0 1.5 0a0.75 0.75 0 1 0 -1.5 0M312.47 462.60a0.75 0.75 0 1 0 1.5 0a0.75 0.75 0 1 0 -1.5 0M314.68 466.43a0.75 0.75 0 1 0 1.5 0a0.75 0.75 0 1 0 -1.5 0M316.89 470.25a0.75 0.75 0 1 0 1.5 0a0.75 0.75 0 1 0 -1.5 0M319.10 474.08a0.75 0.75 0 1 0 1.5 0a0.75 0.75 0 1 0 -1.5 0M316.29 460.39a0.75 0.75 0 1 0 1.5 0a0.75 0.75 0 1 0 -1.5 0M318.50 464.22a0.75 0.75 0 1 0 1.5 0a0.75 0.75 0 1 0 -1.5 0M320.71 468.04a0.75 0.75 0 1 0 1.5 0a0.75 0.75 0 1 0 -1.5 0M322.92 471.87a0.75 0.75 0 1 0 1.5 0a0.75 0.75 0 1 0 -1.5 0M320.12 458.18a0.75 0.75 0 1 0 1.5 0a0.75 0.75 0 1 0 -1.5 0M322.33 462.01a0.75 0.75 0 1 0 1.5 0a0.75 0.75 0 1 0 -1.5 0M324.54 465.83a0.75 0.75 0 1 0 1.5 0a0.75 0.75 0 1 0 -1.5 0M326.75 469.66a0.75 0.75 0 1 0 1.5 0a0.75 0.75 0 1 0 -1.5 0M328.96 473.49a0.75 0.75 0 1 0 1.5 0a0.75 0.75 0 1 0 -1.5 0M326.16 459.80a0.75 0.75 0 1 0 1.5 0a0.75 0.75 0 1 0 -1.5 0M328.37 463.62a0.75 0.75 0 1 0 1.5 0a0.75 0.75 0 1 0 -1.5 0" fill="#1d1d26"/></g>
<clipPath id="c45"><rect x="329.48" y="486.16" width="13.12" height="26.04"/></clipPath>
<g clip-path="url(#c45)"><path d="M313.31 488.20L337.89 474.01M315.52 492.02L340.10 477.83M317.73 495.85L342.31 481.66M319.94 499.68L344.52 485.49M322.15 503.51L346.73 489.32M324.36 507.34L348.94 493.15M326.57 511.16L351.15 496.97M328.78 514.99L353.36 500.80M330.99 518.82L355.57 504.63M333.20 522.65L357.78 508.46M335.41 526.48L359.99 512.28M311.84 494.04L328.39 522.71M315.67 491.83L332.22 520.50M319.49 489.62L336.05 518.29M323.32 487.41L339.88 516.08M327.15 485.20L343.71 513.87M330.98 482.99L347.53 511.66M334.81 480.78L351.36 509.45M338.63 478.57L355.19 507.24M342.46 476.36L359.02 505.03" stroke="#1d1d26" stroke-width="1.25" fill="none"/></g>
<clipPath id="c46"><rect x="329.48" y="473.14" width="13.12" height="13.02"/></clipPath>
<g clip-path="url(#c46)"><path d="M327.63 485.48a0.75 0.75 0 1 0 1.5 0a0.75 0.75 0 1 0 -1.5 0M327.04 475.62a0.75 0.75 0 1 0 1.5 0a0.75 0.75 0 1 0 -1.5 0M329.25 479.45a0.75 0.75 0 1 0 1.5 0a0.75 0.75 0 1 0 -1.5 0M331.46 483.27a0.75 0.75 0 1 0 1.5 0a0.75 0.75 0 1 0 -1.5 0M333.67 487.10a0.75 0.75 0 1 0 1.5 0a0.75 0.75 0 1 0 -1.5 0M330.87 473.41a0.75 0.75 0 1 0 1.5 0a0.75 0.75 0 1 0 -1.5 0M333.08 477.24a0.75 0.75 0 1 0 1.5 0a0.75 0.75 0 1 0 -1.5 0M335.29 481.06a0.75 0.75 0 1 0 1.5 0a0.75 0.75 0 1 0 -1.5 0M337.50 484.89a0.75 0.75 0 1 0 1.5 0a0.75 0.75 0 1 0 -1.5 0M334.70 471.20a0.75 0.75 0 1 0 1.5 0a0.75 0.75 0 1 0 -1.5 0M336.91 475.03a0.75 0.75 0 1 0 1.5 0a0.75 0.75 0 1 0 -1.5 0M339.12 478.85a0.75 0.75 0 1 0 1.5 0a0.75 0.75 0 1 0 -1.5 0M341.33 482.68a0.75 0.75 0 1 0 1.5 0a0.75 0.75 0 1 0 -1.5 0M343.54 486.51a0.75 0.75 0 1 0 1.5 0a0.75 0.75 0 1 0 -1.5 0M340.74 472.82a0.75 0.75 0 1 0 1.5 0a0.75 0.75 0 1 0 -1.5 0M342.95 476.64a0.75 0.75 0 1 0 1.5 0a0.75 0.75 0 1 0 -1.5 0" fill="#1d1d26"/></g>
<clipPath id="c47"><rect x="344.06" y="473.14" width="13.12" height="39.06"/></clipPath>
<g clip-path="url(#c47)"><path d="M322.86 479.49L353.08 462.04M325.07 483.31L355.29 465.87M327.28 487.14L357.50 469.70M329.49 490.97L359.71 473.52M331.70 494.80L361.92 477.35M333.91 498.63L364.13 481.18M336.12 502.45L366.34 485.01M338.33 506.28L368.55 488.84M340.54 510.11L370.76 492.66M342.75 513.94L372.97 496.49M344.96 517.77L375.18 500.32M347.17 521.59L377.39 504.15M349.38 525.42L379.60 507.97M319.77 484.85L341.96 523.29M323.60 482.64L345.79 521.08M327.42 480.43L349.62 518.87M331.25 478.22L353.45 516.66M335.08 476.01L357.27 514.45M338.91 473.80L361.10 512.24M342.74 471.59L364.93 510.03M346.56 469.38L368.76 507.82M350.39 467.17L372.58 505.61M354.22 464.96L376.41 503.40M358.05 462.75L380.24 501.19" stroke="#1d1d26" stroke-width="1.25" fill="none"/></g>
<clipPath id="c48"><rect x="358.63" y="473.14" width="13.12" height="26.04"/></clipPath>
<g clip-path="url(#c48)"><path d="M342.47 475.18L367.05 460.99M344.68 479.00L369.26 464.81M346.89 482.83L371.47 468.64M349.10 486.66L373.68 472.47M351.31 490.49L375.89 476.30M353.52 494.32L378.10 480.13M355.73 498.14L380.31 483.95M357.94 501.97L382.52 487.78M360.15 505.80L384.73 491.61M362.36 509.63L386.94 495.44M364.57 513.46L389.15 499.26" stroke="#1d1d26" stroke-width="1.3" fill="none"/></g>
<clipPath id="c49"><rect x="358.63" y="460.12" width="13.12" height="13.02"/></clipPath>
<g clip-path="url(#c49)"><path d="M347.50 457.85L366.44 446.91M349.71 461.68L368.65 450.74M351.92 465.50L370.86 454.57M354.13 469.33L373.07 458.40M356.34 473.16L375.28 462.22M358.55 476.99L377.49 466.05M360.76 480.81L379.70 469.88M362.97 484.64L381.91 473.71M347.64 464.16L358.56 483.07M351.47 461.95L362.38 480.86M355.29 459.74L366.21 478.65M359.12 457.53L370.04 476.44M362.95 455.32L373.87 474.23M366.78 453.11L377.70 472.02M370.61 450.90L381.52 469.81M374.43 448.69L385.35 467.60" stroke="#1d1d26" stroke-width="1.25" fill="none"/></g>
<clipPath id="c50"><rect x="387.79" y="408.04" width="13.12" height="13.02"/></clipPath>
<g clip-path="url(#c50)"><path d="M376.65 405.77L395.59 394.83M378.86 409.60L397.80 398.66M381.07 413.42L400.01 402.49M383.28 417.25L402.22 406.32M385.49 421.08L404.43 410.14M387.70 424.91L406.64 413.97M389.91 428.73L408.85 417.80M392.12 432.56L411.06 421.63M376.79 412.08L387.71 430.99M380.62 409.87L391.54 428.78M384.45 407.66L395.37 426.57M388.28 405.45L399.19 424.36M392.10 403.24L403.02 422.15M395.93 401.03L406.85 419.94M399.76 398.82L410.68 417.73M403.59 396.61L414.51 415.52" stroke="#1d1d26" stroke-width="1.25" fill="none"/></g>
<clipPath id="c51"><rect x="402.37" y="447.10" width="13.12" height="39.06"/></clipPath>
<g clip-path="url(#c51)"><path d="M381.17 453.45L411.39 436.00M383.38 457.27L413.60 439.83M385.59 461.10L415.81 443.66M387.80 464.93L418.02 447.48M390.01 468.76L420.23 451.31M392.22 472.59L422.44 455.14M394.43 476.41L424.65 458.97M396.64 480.24L426.86 462.80M398.85 484.07L429.07 466.62M401.06 487.90L431.28 470.45M403.27 491.73L433.49 474.28M405.48 495.55L435.70 478.11M407.69 499.38L437.91 481.93M378.08 458.81L400.27 497.25M381.90 456.60L404.10 495.04M385.73 454.39L407.93 492.83M389.56 452.18L411.75 490.62M393.39 449.97L415.58 488.41M397.22 447.76L419.41 486.20M401.04 445.55L423.24 483.99M404.87 443.34L427.06 481.78M408.70 441.13L430.89 479.57M412.53 438.92L434.72 477.36M416.36 436.71L438.55 475.15" stroke="#1d1d26" stroke-width="1.25" fill="none"/></g>
<clipPath id="c52"><rect x="416.94" y="408.04" width="13.12" height="39.06"/></clipPath>
<g clip-path="url(#c52)"><path d="M395.75 414.39L425.96 396.94M397.96 418.21L428.17 400.77M400.17 422.04L430.38 404.60M402.38 425.87L432.59 408.42M404.59 429.70L434.80 412.25M406.80 433.53L437.01 416.08M409.01 437.35L439.22 419.91M411.22 441.18L441.43 423.74M413.43 445.01L443.64 427.56M415.64 448.84L445.85 431.39M417.85 452.67L448.06 435.22M420.06 456.49L450.27 439.05M422.27 460.32L452.48 442.87" stroke="#1d1d26" stroke-width="1.3" fill="none"/></g>
<clipPath id="c53"><rect x="416.94" y="382.00" width="13.12" height="26.04"/></clipPath>
<g clip-path="url(#c53)"><path d="M400.77 384.04L425.35 369.85M402.98 387.86L427.56 373.67M405.19 391.69L429.77 377.50M407.40 395.52L431.98 381.33M409.61 399.35L434.19 385.16M411.82 403.18L436.40 388.99M414.03 407.00L438.61 392.81M416.24 410.83L440.82 396.64M418.45 414.66L443.03 400.47M420.66 418.49L445.24 404.30M422.87 422.32L447.45 408.12M399.30 389.88L415.86 418.55M403.13 387.67L419.68 416.34M406.96 385.46L423.51 414.13M410.78 383.25L427.34 411.92M414.61 381.04L431.17 409.71M418.44 378.83L435.00 407.50M422.27 376.62L438.82 405.29M426.10 374.41L442.65 403.08M429.92 372.20L446.48 400.87" stroke="#1d1d26" stroke-width="1.25" fill="none"/></g>
<clipPath id="c54"><rect x="416.94" y="368.98" width="13.12" height="13.02"/></clipPath>
<g clip-path="url(#c54)"><path d="M415.10 381.32a0.75 0.75 0 1 0 1.5 0a0.75 0.75 0 1 0 -1.5 0M414.50 371.46a0.75 0.75 0 1 0 1.5 0a0.75 0.75 0 1 0 -1.5 0M416.71 375.29a0.75 0.75 0 1 0 1.5 0a0.75 0.75 0 1 0 -1.5 0M418.92 379.11a0.75 0.75 0 1 0 1.5 0a0.75 0.75 0 1 0 -1.5 0M421.13 382.94a0.75 0.75 0 1 0 1.5 0a0.75 0.75 0 1 0 -1.5 0M418.33 369.25a0.75 0.75 0 1 0 1.5 0a0.75 0.75 0 1 0 -1.5 0M420.54 373.08a0.75 0.75 0 1 0 1.5 0a0.75 0.75 0 1 0 -1.5 0M422.75 376.90a0.75 0.75 0 1 0 1.5 0a0.75 0.75 0 1 0 -1.5 0M424.96 380.73a0.75 0.75 0 1 0 1.5 0a0.75 0.75 0 1 0 -1.5 0M422.16 367.04a0.75 0.75 0 1 0 1.5 0a0.75 0.75 0 1 0 -1.5 0M424.37 370.87a0.75 0.75 0 1 0 1.5 0a0.75 0.75 0 1 0 -1.5 0M426.58 374.69a0.75 0.75 0 1 0 1.5 0a0.75 0.75 0 1 0 -1.5 0M428.79 378.52a0.75 0.75 0 1 0 1.5 0a0.75 0.75 0 1 0 -1.5 0M431.00 382.35a0.75 0.75 0 1 0 1.5 0a0.75 0.75 0 1 0 -1.5 0M428.20 368.66a0.75 0.75 0 1 0 1.5 0a0.75 0.75 0 1 0 -1.5 0M430.41 372.48a0.75 0.75 0 1 0 1.5 0a0.75 0.75 0 1 0 -1.5 0" fill="#1d1d26"/></g>
<clipPath id="c55"><rect x="416.94" y="355.96" width="13.12" height="13.02"/></clipPath>
<g clip-path="url(#c55)"><path d="M405.80 353.69L424.75 342.75M408.01 357.52L426.96 346.58M410.22 361.34L429.17 350.41M412.43 365.17L431.38 354.24M414.64 369.00L433.59 358.06M416.85 372.83L435.80 361.89M419.06 376.65L438.01 365.72M421.27 380.48L440.22 369.55" stroke="#1d1d26" stroke-width="1.3" fill="none"/></g>
<path d="M35.45,307.60 H432.40 V521.20" fill="none" stroke="#A3A3A3" stroke-width="1.4"/>
<path d="M36.00,307.60 V521.20 H432.40" fill="none" stroke="#555" stroke-width="1.0"/>
<line x1="32.70" x2="36.00" y1="512.20" y2="512.20" stroke="#333" stroke-width="1.1"/>
<g transform="translate(31.00,516.12)"><text x="0" y="0.00" font-size="10.9" text-anchor="end" fill="#3a3a3a" stroke="#3a3a3a" stroke-width="0.25">0</text></g>
<line x1="32.70" x2="36.00" y1="447.10" y2="447.10" stroke="#333" stroke-width="1.1"/>
<g transform="translate(31.00,451.02)"><text x="0" y="0.00" font-size="10.9" text-anchor="end" fill="#3a3a3a" stroke="#3a3a3a" stroke-width="0.25">5</text></g>
<line x1="32.70" x2="36.00" y1="382.00" y2="382.00" stroke="#333" stroke-width="1.1"/>
<g transform="translate(31.00,385.92)"><text x="0" y="0.00" font-size="10.9" text-anchor="end" fill="#3a3a3a" stroke="#3a3a3a" stroke-width="0.25"> 0</text><path d="M-9.38,0.00 -9.38,-6.58 -11.08,-5.38 -11.08,-6.28 -9.30,-7.50 -8.42,-7.50 -8.42,0.00Z" fill="#3a3a3a"/></g>
<line x1="32.70" x2="36.00" y1="316.90" y2="316.90" stroke="#333" stroke-width="1.1"/>
<g transform="translate(31.00,320.82)"><text x="0" y="0.00" font-size="10.9" text-anchor="end" fill="#3a3a3a" stroke="#3a3a3a" stroke-width="0.25"> 5</text><path d="M-9.38,0.00 -9.38,-6.58 -11.08,-5.38 -11.08,-6.28 -9.30,-7.50 -8.42,-7.50 -8.42,0.00Z" fill="#3a3a3a"/></g>
<line x1="44.50" x2="44.50" y1="521.20" y2="524.50" stroke="#333" stroke-width="1.1"/>
<g transform="translate(49.50,532.00) rotate(-45)"><text x="0" y="0.00" font-size="9.8" text-anchor="end" fill="#3a3a3a" stroke="#3a3a3a" stroke-width="0.25">ABCA4-CRD</text></g>
<line x1="59.08" x2="59.08" y1="521.20" y2="524.50" stroke="#333" stroke-width="1.1"/>
<g transform="translate(64.08,532.00) rotate(-45)"><text x="0" y="0.00" font-size="9.8" text-anchor="end" fill="#3a3a3a" stroke="#3a3a3a" stroke-width="0.25">ABCA4-MD</text></g>
<line x1="73.65" x2="73.65" y1="521.20" y2="524.50" stroke="#333" stroke-width="1.1"/>
<g transform="translate(78.65,532.00) rotate(-45)"><text x="0" y="0.00" font-size="9.8" text-anchor="end" fill="#3a3a3a" stroke="#3a3a3a" stroke-width="0.25">ADAM9</text></g>
<line x1="88.23" x2="88.23" y1="521.20" y2="524.50" stroke="#333" stroke-width="1.1"/>
<g transform="translate(93.23,532.00) rotate(-45)"><text x="0" y="0.00" font-size="9.8" text-anchor="end" fill="#3a3a3a" stroke="#3a3a3a" stroke-width="0.25">ADGRV </text><path d="M-2.99,0.00 -2.99,-5.92 -4.51,-4.83 -4.51,-5.65 -2.91,-6.74 -2.12,-6.74 -2.12,0.00Z" fill="#3a3a3a"/></g>
<line x1="102.81" x2="102.81" y1="521.20" y2="524.50" stroke="#333" stroke-width="1.1"/>
<g transform="translate(107.81,532.00) rotate(-45)"><text x="0" y="0.00" font-size="9.8" text-anchor="end" fill="#3a3a3a" stroke="#3a3a3a" stroke-width="0.25">BBS </text><path d="M-2.99,0.00 -2.99,-5.92 -4.51,-4.83 -4.51,-5.65 -2.91,-6.74 -2.12,-6.74 -2.12,0.00Z" fill="#3a3a3a"/></g>
<line x1="117.39" x2="117.39" y1="521.20" y2="524.50" stroke="#333" stroke-width="1.1"/>
<g transform="translate(122.39,532.00) rotate(-45)"><text x="0" y="0.00" font-size="9.8" text-anchor="end" fill="#3a3a3a" stroke="#3a3a3a" stroke-width="0.25">BBS 0</text><path d="M-8.44,0.00 -8.44,-5.92 -9.96,-4.83 -9.96,-5.65 -8.36,-6.74 -7.57,-6.74 -7.57,0.00Z" fill="#3a3a3a"/></g>
<line x1="131.96" x2="131.96" y1="521.20" y2="524.50" stroke="#333" stroke-width="1.1"/>
<g transform="translate(136.96,532.00) rotate(-45)"><text x="0" y="0.00" font-size="9.8" text-anchor="end" fill="#3a3a3a" stroke="#3a3a3a" stroke-width="0.25">CACNA F</text><path d="M-8.97,0.00 -8.97,-5.92 -10.49,-4.83 -10.49,-5.65 -8.90,-6.74 -8.11,-6.74 -8.11,0.00Z" fill="#3a3a3a"/></g>
<line x1="146.54" x2="146.54" y1="521.20" y2="524.50" stroke="#333" stroke-width="1.1"/>
<g transform="translate(151.54,532.00) rotate(-45)"><text x="0" y="0.00" font-size="9.8" text-anchor="end" fill="#3a3a3a" stroke="#3a3a3a" stroke-width="0.25">CDH23</text></g>
<line x1="161.12" x2="161.12" y1="521.20" y2="524.50" stroke="#333" stroke-width="1.1"/>
<g transform="translate(166.12,532.00) rotate(-45)"><text x="0" y="0.00" font-size="9.8" text-anchor="end" fill="#3a3a3a" stroke="#3a3a3a" stroke-width="0.25">CFAP4 8</text><path d="M-8.44,0.00 -8.44,-5.92 -9.96,-4.83 -9.96,-5.65 -8.36,-6.74 -7.57,-6.74 -7.57,0.00Z" fill="#3a3a3a"/></g>
<line x1="175.69" x2="175.69" y1="521.20" y2="524.50" stroke="#333" stroke-width="1.1"/>
<g transform="translate(180.69,532.00) rotate(-45)"><text x="0" y="0.00" font-size="9.8" text-anchor="end" fill="#3a3a3a" stroke="#3a3a3a" stroke-width="0.25">CNNM4</text></g>
<line x1="190.27" x2="190.27" y1="521.20" y2="524.50" stroke="#333" stroke-width="1.1"/>
<g transform="translate(195.27,532.00) rotate(-45)"><text x="0" y="0.00" font-size="9.8" text-anchor="end" fill="#3a3a3a" stroke="#3a3a3a" stroke-width="0.25">CRX</text></g>
<line x1="204.85" x2="204.85" y1="521.20" y2="524.50" stroke="#333" stroke-width="1.1"/>
<g transform="translate(209.85,532.00) rotate(-45)"><text x="0" y="0.00" font-size="9.8" text-anchor="end" fill="#3a3a3a" stroke="#3a3a3a" stroke-width="0.25">EYS</text></g>
<line x1="219.42" x2="219.42" y1="521.20" y2="524.50" stroke="#333" stroke-width="1.1"/>
<g transform="translate(224.42,532.00) rotate(-45)"><text x="0" y="0.00" font-size="9.8" text-anchor="end" fill="#3a3a3a" stroke="#3a3a3a" stroke-width="0.25">GUCY2D</text></g>
<line x1="234.00" x2="234.00" y1="521.20" y2="524.50" stroke="#333" stroke-width="1.1"/>
<g transform="translate(239.00,532.00) rotate(-45)"><text x="0" y="0.00" font-size="9.8" text-anchor="end" fill="#3a3a3a" stroke="#3a3a3a" stroke-width="0.25">MAK</text></g>
<line x1="248.58" x2="248.58" y1="521.20" y2="524.50" stroke="#333" stroke-width="1.1"/>
<g transform="translate(253.58,532.00) rotate(-45)"><text x="0" y="0.00" font-size="9.8" text-anchor="end" fill="#3a3a3a" stroke="#3a3a3a" stroke-width="0.25">NR2E3</text></g>
<line x1="263.15" x2="263.15" y1="521.20" y2="524.50" stroke="#333" stroke-width="1.1"/>
<g transform="translate(268.15,532.00) rotate(-45)"><text x="0" y="0.00" font-size="9.8" text-anchor="end" fill="#3a3a3a" stroke="#3a3a3a" stroke-width="0.25">NYX</text></g>
<line x1="277.73" x2="277.73" y1="521.20" y2="524.50" stroke="#333" stroke-width="1.1"/>
<g transform="translate(282.73,532.00) rotate(-45)"><text x="0" y="0.00" font-size="9.8" text-anchor="end" fill="#3a3a3a" stroke="#3a3a3a" stroke-width="0.25">PDE6B</text></g>
<line x1="292.31" x2="292.31" y1="521.20" y2="524.50" stroke="#333" stroke-width="1.1"/>
<g transform="translate(297.31,532.00) rotate(-45)"><text x="0" y="0.00" font-size="9.8" text-anchor="end" fill="#3a3a3a" stroke="#3a3a3a" stroke-width="0.25">PHYH</text></g>
<line x1="306.89" x2="306.89" y1="521.20" y2="524.50" stroke="#333" stroke-width="1.1"/>
<g transform="translate(311.89,532.00) rotate(-45)"><text x="0" y="0.00" font-size="9.8" text-anchor="end" fill="#3a3a3a" stroke="#3a3a3a" stroke-width="0.25">PROM </text><path d="M-2.99,0.00 -2.99,-5.92 -4.51,-4.83 -4.51,-5.65 -2.91,-6.74 -2.12,-6.74 -2.12,0.00Z" fill="#3a3a3a"/></g>
<line x1="321.46" x2="321.46" y1="521.20" y2="524.50" stroke="#333" stroke-width="1.1"/>
<g transform="translate(326.46,532.00) rotate(-45)"><text x="0" y="0.00" font-size="9.8" text-anchor="end" fill="#3a3a3a" stroke="#3a3a3a" stroke-width="0.25">PRPF3 </text><path d="M-2.99,0.00 -2.99,-5.92 -4.51,-4.83 -4.51,-5.65 -2.91,-6.74 -2.12,-6.74 -2.12,0.00Z" fill="#3a3a3a"/></g>
<line x1="336.04" x2="336.04" y1="521.20" y2="524.50" stroke="#333" stroke-width="1.1"/>
<g transform="translate(341.04,532.00) rotate(-45)"><text x="0" y="0.00" font-size="9.8" text-anchor="end" fill="#3a3a3a" stroke="#3a3a3a" stroke-width="0.25">PRPH2</text></g>
<line x1="350.62" x2="350.62" y1="521.20" y2="524.50" stroke="#333" stroke-width="1.1"/>
<g transform="translate(355.62,532.00) rotate(-45)"><text x="0" y="0.00" font-size="9.8" text-anchor="end" fill="#3a3a3a" stroke="#3a3a3a" stroke-width="0.25">RHO</text></g>
<line x1="365.19" x2="365.19" y1="521.20" y2="524.50" stroke="#333" stroke-width="1.1"/>
<g transform="translate(370.19,532.00) rotate(-45)"><text x="0" y="0.00" font-size="9.8" text-anchor="end" fill="#3a3a3a" stroke="#3a3a3a" stroke-width="0.25">RP </text><path d="M-2.99,0.00 -2.99,-5.92 -4.51,-4.83 -4.51,-5.65 -2.91,-6.74 -2.12,-6.74 -2.12,0.00Z" fill="#3a3a3a"/></g>
<line x1="379.77" x2="379.77" y1="521.20" y2="524.50" stroke="#333" stroke-width="1.1"/>
<g transform="translate(384.77,532.00) rotate(-45)"><text x="0" y="0.00" font-size="9.8" text-anchor="end" fill="#3a3a3a" stroke="#3a3a3a" stroke-width="0.25">RP2</text></g>
<line x1="394.35" x2="394.35" y1="521.20" y2="524.50" stroke="#333" stroke-width="1.1"/>
<g transform="translate(399.35,532.00) rotate(-45)"><text x="0" y="0.00" font-size="9.8" text-anchor="end" fill="#3a3a3a" stroke="#3a3a3a" stroke-width="0.25">RPGR</text></g>
<line x1="408.93" x2="408.93" y1="521.20" y2="524.50" stroke="#333" stroke-width="1.1"/>
<g transform="translate(413.93,532.00) rotate(-45)"><text x="0" y="0.00" font-size="9.8" text-anchor="end" fill="#3a3a3a" stroke="#3a3a3a" stroke-width="0.25">USH2A-RP</text></g>
<line x1="423.50" x2="423.50" y1="521.20" y2="524.50" stroke="#333" stroke-width="1.1"/>
<g transform="translate(428.50,532.00) rotate(-45)"><text x="0" y="0.00" font-size="9.8" text-anchor="end" fill="#3a3a3a" stroke="#3a3a3a" stroke-width="0.25">USH2A-Usher</text></g>
<text transform="translate(12.70,414.70) rotate(-90)" font-size="11.6" fill="#151515" text-anchor="middle">Number of unique variants</text>
<text x="3" y="18.8" font-size="20.6" fill="#000">A</text>
<text x="3" y="314" font-size="20.6" fill="#000">B</text>
<text x="431.70" y="60.50" font-size="12.1" fill="#111" stroke="#111" stroke-width="0.15">Phenotype</text>
<rect x="432.30" y="67.40" width="19.00" height="19.15" fill="#C62A26"/>
<clipPath id="c56"><rect x="432.30" y="67.40" width="19.00" height="19.15"/></clipPath>
<g clip-path="url(#c56)"><path d="M431.42 74.45a0.95 0.95 0 1 0 1.9 0a0.95 0.95 0 1 0 -1.9 0M434.87 80.43a0.95 0.95 0 1 0 1.9 0a0.95 0.95 0 1 0 -1.9 0M438.32 86.40a0.95 0.95 0 1 0 1.9 0a0.95 0.95 0 1 0 -1.9 0M437.40 71.00a0.95 0.95 0 1 0 1.9 0a0.95 0.95 0 1 0 -1.9 0M440.85 76.98a0.95 0.95 0 1 0 1.9 0a0.95 0.95 0 1 0 -1.9 0M444.30 82.95a0.95 0.95 0 1 0 1.9 0a0.95 0.95 0 1 0 -1.9 0M443.38 67.55a0.95 0.95 0 1 0 1.9 0a0.95 0.95 0 1 0 -1.9 0M446.83 73.53a0.95 0.95 0 1 0 1.9 0a0.95 0.95 0 1 0 -1.9 0M450.28 79.50a0.95 0.95 0 1 0 1.9 0a0.95 0.95 0 1 0 -1.9 0" fill="#1d1d26"/></g>
<text x="458.00" y="81.09" font-size="9.75" fill="#111" stroke="#111" stroke-width="0.2">Cone-rod dystrophy</text>
<rect x="432.30" y="86.55" width="19.00" height="19.15" fill="#FF8A05"/>
<clipPath id="c57"><rect x="432.30" y="86.55" width="19.00" height="19.15"/></clipPath>
<g clip-path="url(#c57)"><path d="M418.45 85.71L444.45 70.69M421.90 91.68L447.90 76.67M425.35 97.66L451.35 82.64M428.80 103.63L454.80 88.62M432.25 109.61L458.25 94.59M435.70 115.58L461.70 100.57M439.15 121.56L465.15 106.54" stroke="#1d1d26" stroke-width="1.8" fill="none"/></g>
<text x="458.00" y="100.24" font-size="9.75" fill="#111" stroke="#111" stroke-width="0.2">CSNB</text>
<rect x="432.30" y="105.70" width="19.00" height="19.15" fill="#93CDB5"/>
<clipPath id="c58"><rect x="432.30" y="105.70" width="19.00" height="19.15"/></clipPath>
<g clip-path="url(#c58)"><path d="M431.42 112.75a0.95 0.95 0 1 0 1.9 0a0.95 0.95 0 1 0 -1.9 0M434.87 118.73a0.95 0.95 0 1 0 1.9 0a0.95 0.95 0 1 0 -1.9 0M438.32 124.70a0.95 0.95 0 1 0 1.9 0a0.95 0.95 0 1 0 -1.9 0M437.40 109.30a0.95 0.95 0 1 0 1.9 0a0.95 0.95 0 1 0 -1.9 0M440.85 115.28a0.95 0.95 0 1 0 1.9 0a0.95 0.95 0 1 0 -1.9 0M444.30 121.25a0.95 0.95 0 1 0 1.9 0a0.95 0.95 0 1 0 -1.9 0M443.38 105.85a0.95 0.95 0 1 0 1.9 0a0.95 0.95 0 1 0 -1.9 0M446.83 111.83a0.95 0.95 0 1 0 1.9 0a0.95 0.95 0 1 0 -1.9 0M450.28 117.80a0.95 0.95 0 1 0 1.9 0a0.95 0.95 0 1 0 -1.9 0" fill="#1d1d26"/></g>
<text x="458.00" y="119.39" font-size="9.75" fill="#111" stroke="#111" stroke-width="0.2">LCA</text>
<rect x="432.30" y="124.85" width="19.00" height="19.15" fill="#CC8494"/>
<text x="458.00" y="138.53" font-size="9.75" fill="#111" stroke="#111" stroke-width="0.2">Macular dystrophy</text>
<rect x="432.30" y="144.00" width="19.00" height="19.15" fill="#137CC8"/>
<clipPath id="c59"><rect x="432.30" y="144.00" width="19.00" height="19.15"/></clipPath>
<g clip-path="url(#c59)"><path d="M418.45 143.16L444.45 128.14M421.90 149.13L447.90 134.12M425.35 155.11L451.35 140.09M428.80 161.08L454.80 146.07M432.25 167.06L458.25 152.04M435.70 173.03L461.70 158.02M439.15 179.01L465.15 163.99" stroke="#1d1d26" stroke-width="1.8" fill="none"/></g>
<text x="458.00" y="157.68" font-size="9.75" fill="#111" stroke="#111" stroke-width="0.2">Non-syndromic RCD</text>
<rect x="432.30" y="163.15" width="19.00" height="19.15" fill="#8AD5F5"/>
<clipPath id="c60"><rect x="432.30" y="163.15" width="19.00" height="19.15"/></clipPath>
<g clip-path="url(#c60)"><path d="M418.45 162.31L444.45 147.29M421.90 168.28L447.90 153.27M425.35 174.26L451.35 159.24M428.80 180.23L454.80 165.22M432.25 186.21L458.25 171.19M435.70 192.18L461.70 177.17M439.15 198.16L465.15 183.14M416.35 170.05L431.39 196.10M422.33 166.60L437.37 192.65M428.30 163.15L443.35 189.20M434.28 159.70L449.32 185.75M440.25 156.25L455.30 182.30M446.23 152.80L461.27 178.85M452.21 149.35L467.25 175.40" stroke="#1d1d26" stroke-width="1.8" fill="none"/></g>
<text x="458.00" y="176.83" font-size="9.75" fill="#111" stroke="#111" stroke-width="0.2">Other syndrome</text>
<rect x="432.30" y="182.30" width="19.00" height="19.15" fill="#03042B"/>
<text x="458.00" y="195.98" font-size="9.75" fill="#111" stroke="#111" stroke-width="0.2">Usher syndrome</text>
<text x="448.10" y="356.80" font-size="10.8" fill="#111" stroke="#111" stroke-width="0.15">Variant consequence</text>
<rect x="448.70" y="363.50" width="16.40" height="16.65" fill="#C62A26"/>
<clipPath id="c61"><rect x="448.70" y="363.50" width="16.40" height="16.65"/></clipPath>
<g clip-path="url(#c61)"><path d="M434.91 360.27L457.89 347.01M438.41 366.33L461.39 353.07M441.91 372.39L464.89 359.13M445.41 378.46L468.39 365.19M448.91 384.52L471.89 371.26M452.41 390.58L475.39 377.32M455.91 396.64L478.89 383.38" stroke="#1d1d26" stroke-width="1.9" fill="none"/></g>
<text x="470.30" y="375.49" font-size="8.5" fill="#111" stroke="#111" stroke-width="0.2">Intronic</text>
<rect x="448.70" y="380.15" width="16.40" height="16.65" fill="#FBB56C"/>
<clipPath id="c62"><rect x="448.70" y="380.15" width="16.40" height="16.65"/></clipPath>
<g clip-path="url(#c62)"><path d="M446.29 385.91a1.05 1.05 0 1 0 2.1 0a1.05 1.05 0 1 0 -2.1 0M449.79 391.97a1.05 1.05 0 1 0 2.1 0a1.05 1.05 0 1 0 -2.1 0M453.29 398.04a1.05 1.05 0 1 0 2.1 0a1.05 1.05 0 1 0 -2.1 0M452.35 382.41a1.05 1.05 0 1 0 2.1 0a1.05 1.05 0 1 0 -2.1 0M455.85 388.47a1.05 1.05 0 1 0 2.1 0a1.05 1.05 0 1 0 -2.1 0M459.35 394.54a1.05 1.05 0 1 0 2.1 0a1.05 1.05 0 1 0 -2.1 0M458.41 378.91a1.05 1.05 0 1 0 2.1 0a1.05 1.05 0 1 0 -2.1 0M461.91 384.97a1.05 1.05 0 1 0 2.1 0a1.05 1.05 0 1 0 -2.1 0M465.41 391.04a1.05 1.05 0 1 0 2.1 0a1.05 1.05 0 1 0 -2.1 0" fill="#1d1d26"/></g>
<text x="470.30" y="392.13" font-size="8.5" fill="#111" stroke="#111" stroke-width="0.2">Splice</text>
<rect x="448.70" y="396.80" width="16.40" height="16.65" fill="#CC8494"/>
<text x="470.30" y="408.79" font-size="8.5" fill="#111" stroke="#111" stroke-width="0.2">CNV</text>
<rect x="448.70" y="413.45" width="16.40" height="16.65" fill="#93CDB5"/>
<clipPath id="c63"><rect x="448.70" y="413.45" width="16.40" height="16.65"/></clipPath>
<g clip-path="url(#c63)"><path d="M446.29 419.21a1.05 1.05 0 1 0 2.1 0a1.05 1.05 0 1 0 -2.1 0M449.79 425.27a1.05 1.05 0 1 0 2.1 0a1.05 1.05 0 1 0 -2.1 0M453.29 431.34a1.05 1.05 0 1 0 2.1 0a1.05 1.05 0 1 0 -2.1 0M452.35 415.71a1.05 1.05 0 1 0 2.1 0a1.05 1.05 0 1 0 -2.1 0M455.85 421.77a1.05 1.05 0 1 0 2.1 0a1.05 1.05 0 1 0 -2.1 0M459.35 427.84a1.05 1.05 0 1 0 2.1 0a1.05 1.05 0 1 0 -2.1 0M458.41 412.21a1.05 1.05 0 1 0 2.1 0a1.05 1.05 0 1 0 -2.1 0M461.91 418.27a1.05 1.05 0 1 0 2.1 0a1.05 1.05 0 1 0 -2.1 0M465.41 424.34a1.05 1.05 0 1 0 2.1 0a1.05 1.05 0 1 0 -2.1 0" fill="#1d1d26"/></g>
<text x="470.30" y="425.44" font-size="8.5" fill="#111" stroke="#111" stroke-width="0.2">Indel (in frame)</text>
<rect x="448.70" y="430.10" width="16.40" height="16.65" fill="#137CC8"/>
<clipPath id="c64"><rect x="448.70" y="430.10" width="16.40" height="16.65"/></clipPath>
<g clip-path="url(#c64)"><path d="M434.91 426.87L457.89 413.61M438.41 432.93L461.39 419.67M441.91 438.99L464.89 425.73M445.41 445.06L468.39 431.79M448.91 451.12L471.89 437.86M452.41 457.18L475.39 443.92M455.91 463.24L478.89 449.98M432.06 437.40L445.37 460.45M438.12 433.90L451.43 456.95M444.18 430.40L457.49 453.45M450.25 426.90L463.55 449.95M456.31 423.40L469.62 446.45M462.37 419.90L475.68 442.95M468.43 416.40L481.74 439.45" stroke="#1d1d26" stroke-width="1.9" fill="none"/></g>
<text x="470.30" y="442.09" font-size="8.5" fill="#111" stroke="#111" stroke-width="0.2">Missense</text>
<rect x="448.70" y="446.75" width="16.40" height="16.65" fill="#8AD5F5"/>
<clipPath id="c65"><rect x="448.70" y="446.75" width="16.40" height="16.65"/></clipPath>
<g clip-path="url(#c65)"><path d="M434.91 443.52L457.89 430.26M438.41 449.58L461.39 436.32M441.91 455.64L464.89 442.38M445.41 461.71L468.39 448.44M448.91 467.77L471.89 454.51M452.41 473.83L475.39 460.57M455.91 479.89L478.89 466.63" stroke="#1d1d26" stroke-width="1.9" fill="none"/></g>
<text x="470.30" y="458.74" font-size="8.5" fill="#111" stroke="#111" stroke-width="0.2">Nonsense</text>
<rect x="448.70" y="463.40" width="16.40" height="16.65" fill="#03042B"/>
<text x="470.30" y="475.38" font-size="8.5" fill="#111" stroke="#111" stroke-width="0.2">Frameshift</text>
</svg></body></html>
